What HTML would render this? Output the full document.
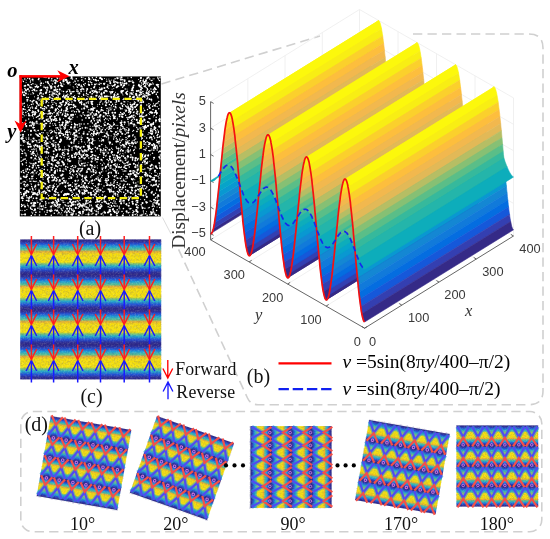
<!DOCTYPE html><html><head><meta charset="utf-8"><title>Figure</title><style>html,body{margin:0;padding:0;background:#fff;overflow:hidden}svg{display:block}</style></head><body><svg width="550" height="539" viewBox="0 0 550 539"><defs><linearGradient id="gc" x1="0" y1="0" x2="0" y2="1"><stop offset="0.0000" stop-color="#2b2585"/><stop offset="0.0150" stop-color="#2c2c96"/><stop offset="0.0325" stop-color="#2050d6"/><stop offset="0.0525" stop-color="#1fa6d4"/><stop offset="0.0725" stop-color="#58c090"/><stop offset="0.0875" stop-color="#eab22c"/><stop offset="0.1050" stop-color="#f6dc0c"/><stop offset="0.1625" stop-color="#f4e20c"/><stop offset="0.1737" stop-color="#84c868"/><stop offset="0.1913" stop-color="#22aecb"/><stop offset="0.2150" stop-color="#2050d6"/><stop offset="0.2350" stop-color="#2c2c96"/><stop offset="0.2500" stop-color="#2b2585"/><stop offset="0.2500" stop-color="#2b2585"/><stop offset="0.2650" stop-color="#2c2c96"/><stop offset="0.2825" stop-color="#2050d6"/><stop offset="0.3025" stop-color="#1fa6d4"/><stop offset="0.3225" stop-color="#58c090"/><stop offset="0.3375" stop-color="#eab22c"/><stop offset="0.3550" stop-color="#f6dc0c"/><stop offset="0.4125" stop-color="#f4e20c"/><stop offset="0.4237" stop-color="#84c868"/><stop offset="0.4413" stop-color="#22aecb"/><stop offset="0.4650" stop-color="#2050d6"/><stop offset="0.4850" stop-color="#2c2c96"/><stop offset="0.5000" stop-color="#2b2585"/><stop offset="0.5000" stop-color="#2b2585"/><stop offset="0.5150" stop-color="#2c2c96"/><stop offset="0.5325" stop-color="#2050d6"/><stop offset="0.5525" stop-color="#1fa6d4"/><stop offset="0.5725" stop-color="#58c090"/><stop offset="0.5875" stop-color="#eab22c"/><stop offset="0.6050" stop-color="#f6dc0c"/><stop offset="0.6625" stop-color="#f4e20c"/><stop offset="0.6737" stop-color="#84c868"/><stop offset="0.6913" stop-color="#22aecb"/><stop offset="0.7150" stop-color="#2050d6"/><stop offset="0.7350" stop-color="#2c2c96"/><stop offset="0.7500" stop-color="#2b2585"/><stop offset="0.7500" stop-color="#2b2585"/><stop offset="0.7650" stop-color="#2c2c96"/><stop offset="0.7825" stop-color="#2050d6"/><stop offset="0.8025" stop-color="#1fa6d4"/><stop offset="0.8225" stop-color="#58c090"/><stop offset="0.8375" stop-color="#eab22c"/><stop offset="0.8550" stop-color="#f6dc0c"/><stop offset="0.9125" stop-color="#f4e20c"/><stop offset="0.9237" stop-color="#84c868"/><stop offset="0.9413" stop-color="#22aecb"/><stop offset="0.9650" stop-color="#2050d6"/><stop offset="0.9850" stop-color="#2c2c96"/><stop offset="1.0000" stop-color="#2b2585"/></linearGradient><filter id="nz" x="0" y="0" width="100%" height="100%"><feTurbulence type="fractalNoise" baseFrequency="0.5" numOctaves="2" seed="3"/><feColorMatrix type="matrix" values="0 0 0 0 0.05  0 0 0 0 0.05  0 0 0 0 0.3  0.55 0 0 0 -0.22"/></filter><filter id="nw" x="0" y="0" width="100%" height="100%"><feTurbulence type="fractalNoise" baseFrequency="0.55" numOctaves="2" seed="11"/><feColorMatrix type="matrix" values="0 0 0 0 1  0 0 0 0 1  0 0 0 0 0.6  0 0.45 0 0 -0.2"/></filter><g id="tb"><rect width="141" height="140" fill="url(#gc)"/><rect width="141" height="140" filter="url(#nz)"/><rect width="141" height="140" filter="url(#nw)"/></g><g id="thumb"><use href="#tb"/><path d="M9 36.5a2.2 2.2 0 1 0 4.4 0a2.2 2.2 0 1 0 -4.4 0M9 71.5a2.2 2.2 0 1 0 4.4 0a2.2 2.2 0 1 0 -4.4 0M9 106.5a2.2 2.2 0 1 0 4.4 0a2.2 2.2 0 1 0 -4.4 0M31.2 36.5a2.2 2.2 0 1 0 4.4 0a2.2 2.2 0 1 0 -4.4 0M31.2 71.5a2.2 2.2 0 1 0 4.4 0a2.2 2.2 0 1 0 -4.4 0M31.2 106.5a2.2 2.2 0 1 0 4.4 0a2.2 2.2 0 1 0 -4.4 0M55.3 36.5a2.2 2.2 0 1 0 4.4 0a2.2 2.2 0 1 0 -4.4 0M55.3 71.5a2.2 2.2 0 1 0 4.4 0a2.2 2.2 0 1 0 -4.4 0M55.3 106.5a2.2 2.2 0 1 0 4.4 0a2.2 2.2 0 1 0 -4.4 0M78.1 36.5a2.2 2.2 0 1 0 4.4 0a2.2 2.2 0 1 0 -4.4 0M78.1 71.5a2.2 2.2 0 1 0 4.4 0a2.2 2.2 0 1 0 -4.4 0M78.1 106.5a2.2 2.2 0 1 0 4.4 0a2.2 2.2 0 1 0 -4.4 0M101.8 36.5a2.2 2.2 0 1 0 4.4 0a2.2 2.2 0 1 0 -4.4 0M101.8 71.5a2.2 2.2 0 1 0 4.4 0a2.2 2.2 0 1 0 -4.4 0M101.8 106.5a2.2 2.2 0 1 0 4.4 0a2.2 2.2 0 1 0 -4.4 0M127.1 36.5a2.2 2.2 0 1 0 4.4 0a2.2 2.2 0 1 0 -4.4 0M127.1 71.5a2.2 2.2 0 1 0 4.4 0a2.2 2.2 0 1 0 -4.4 0M127.1 106.5a2.2 2.2 0 1 0 4.4 0a2.2 2.2 0 1 0 -4.4 0" stroke="#c872e0" stroke-width="1.7" fill="none"/><path d="M1.4 32.9L11.2 14.9L21 32.9M1.4 67.9L11.2 49.9L21 67.9M1.4 102.9L11.2 84.9L21 102.9M1.4 137.9L11.2 119.9L21 137.9M23.6 32.9L33.4 14.9L43.2 32.9M23.6 67.9L33.4 49.9L43.2 67.9M23.6 102.9L33.4 84.9L43.2 102.9M23.6 137.9L33.4 119.9L43.2 137.9M47.7 32.9L57.5 14.9L67.3 32.9M47.7 67.9L57.5 49.9L67.3 67.9M47.7 102.9L57.5 84.9L67.3 102.9M47.7 137.9L57.5 119.9L67.3 137.9M70.5 32.9L80.3 14.9L90.1 32.9M70.5 67.9L80.3 49.9L90.1 67.9M70.5 102.9L80.3 84.9L90.1 102.9M70.5 137.9L80.3 119.9L90.1 137.9M94.2 32.9L104 14.9L113.8 32.9M94.2 67.9L104 49.9L113.8 67.9M94.2 102.9L104 84.9L113.8 102.9M94.2 137.9L104 119.9L113.8 137.9M119.5 32.9L129.3 14.9L139.1 32.9M119.5 67.9L129.3 49.9L139.1 67.9M119.5 102.9L129.3 84.9L139.1 102.9M119.5 137.9L129.3 119.9L139.1 137.9" stroke="#2f9ad0" stroke-opacity="0.55" stroke-width="7.9799999999999995" fill="none"/><path d="M1.4 32.9L11.2 14.9L21 32.9M1.4 67.9L11.2 49.9L21 67.9M1.4 102.9L11.2 84.9L21 102.9M1.4 137.9L11.2 119.9L21 137.9M23.6 32.9L33.4 14.9L43.2 32.9M23.6 67.9L33.4 49.9L43.2 67.9M23.6 102.9L33.4 84.9L43.2 102.9M23.6 137.9L33.4 119.9L43.2 137.9M47.7 32.9L57.5 14.9L67.3 32.9M47.7 67.9L57.5 49.9L67.3 67.9M47.7 102.9L57.5 84.9L67.3 102.9M47.7 137.9L57.5 119.9L67.3 137.9M70.5 32.9L80.3 14.9L90.1 32.9M70.5 67.9L80.3 49.9L90.1 67.9M70.5 102.9L80.3 84.9L90.1 102.9M70.5 137.9L80.3 119.9L90.1 137.9M94.2 32.9L104 14.9L113.8 32.9M94.2 67.9L104 49.9L113.8 67.9M94.2 102.9L104 84.9L113.8 102.9M94.2 137.9L104 119.9L113.8 137.9M119.5 32.9L129.3 14.9L139.1 32.9M119.5 67.9L129.3 49.9L139.1 67.9M119.5 102.9L129.3 84.9L139.1 102.9M119.5 137.9L129.3 119.9L139.1 137.9" stroke="#4f4cf2" stroke-width="3.8" fill="none"/><path d="M1.4 -1.3L11.2 13.7L21 -1.3M1.4 33.7L11.2 48.7L21 33.7M1.4 68.7L11.2 83.7L21 68.7M1.4 103.7L11.2 118.7L21 103.7M23.6 -1.3L33.4 13.7L43.2 -1.3M23.6 33.7L33.4 48.7L43.2 33.7M23.6 68.7L33.4 83.7L43.2 68.7M23.6 103.7L33.4 118.7L43.2 103.7M47.7 -1.3L57.5 13.7L67.3 -1.3M47.7 33.7L57.5 48.7L67.3 33.7M47.7 68.7L57.5 83.7L67.3 68.7M47.7 103.7L57.5 118.7L67.3 103.7M70.5 -1.3L80.3 13.7L90.1 -1.3M70.5 33.7L80.3 48.7L90.1 33.7M70.5 68.7L80.3 83.7L90.1 68.7M70.5 103.7L80.3 118.7L90.1 103.7M94.2 -1.3L104 13.7L113.8 -1.3M94.2 33.7L104 48.7L113.8 33.7M94.2 68.7L104 83.7L113.8 68.7M94.2 103.7L104 118.7L113.8 103.7M119.5 -1.3L129.3 13.7L139.1 -1.3M119.5 33.7L129.3 48.7L139.1 33.7M119.5 68.7L129.3 83.7L139.1 68.7M119.5 103.7L129.3 118.7L139.1 103.7" stroke="#f2504a" stroke-width="3.8" fill="none"/></g></defs><rect width="550" height="539" fill="#fff"/><g fill="none" stroke="#d0d0d0" stroke-width="1.6" stroke-dasharray="9.3 5.2"><path d="M161.5 84 L320 36"/><path d="M413 34 H529 Q543 34 543 48 V391 Q543 404.7 529 404.7 H258 Q250.5 404.7 247.5 398 L177 246"/><rect x="20.8" y="411.5" width="521" height="120.2" rx="12" ry="12"/></g><path d="M162.5 217.5L171 234" fill="none" stroke="#d8d8d8" stroke-width="0.9"/><rect x="19.8" y="76.4" width="141" height="140" fill="#000"/><path d="M28.5 147.4h0M81 86.7h0M79.7 191.8h0M26.9 196.2h0M40.6 93.3h0M29.2 85.3h0M115.5 136.3h0M102.3 139.9h0M131.5 174h0M41.6 144.9h0M23.6 141.1h0M41.5 101.5h0M75.3 132.4h0M109.1 85.6h0M49.6 99.5h0M27.8 77h0M34.6 127.5h0M142.6 162.2h0M85.5 144.2h0M34.7 124.6h0M136.3 99.4h0M153.3 150.3h0M56.9 127.9h0M134.8 179.7h0M92.8 126.4h0M24.3 115.8h0M71.4 107.6h0M111.7 188h0M125.3 143.4h0M152.8 177.6h0M97.1 95.2h0M135.9 106.3h0M56.7 135.2h0M98.1 185.9h0M98.7 111.5h0M142.9 207.8h0M30.5 110.4h0M67.8 104.2h0M82 79.5h0M107.6 148.1h0M35 113.9h0M129.3 114.5h0M100.2 174.2h0M53.7 92.2h0M27.4 105h0M63 182.4h0M90.3 101.7h0M22.9 111.8h0M122.9 153.5h0M86.8 206.7h0M116.5 213.4h0M77 125.2h0M56.1 99.7h0M59.8 110.6h0M63.7 126.5h0M48.5 147.1h0M26.2 80.1h0M143.3 131.1h0M115.9 173.2h0M55.7 87.3h0M106.7 166.2h0M63 155.8h0M117.2 170.8h0M37 201h0M157.1 207h0M83.2 114.3h0M144.4 174.6h0M145.9 144.5h0M62.6 96.5h0M64.6 193.6h0M125.4 193.5h0M80.2 115.2h0M34.6 192.9h0M151.2 111.6h0M97.2 176.9h0M110.5 116.7h0M43.8 99.4h0M147.1 146h0M39.9 103.7h0M68.2 89.6h0M93.7 129.3h0M141 107h0M55.1 92.1h0M84.3 153.5h0M110.6 119.2h0M101.9 130.9h0M104.4 78.5h0M144 143h0M114.7 135.3h0M113.7 205.4h0M123.7 147.1h0M113.4 208.7h0M40.2 84.2h0M73.3 128.9h0M44.1 77.4h0M69.5 209.6h0M133.9 183.4h0M64.6 115.3h0M152.3 80.4h0M89.4 205.8h0M128.4 161.3h0M55 86h0M143.9 214.1h0M119.6 139h0M37.3 193.7h0M48.2 111.3h0M111.7 214.5h0M148.2 82.6h0M141.5 139.3h0M129.1 208.3h0M103.7 163h0M71.9 96.6h0M48.8 78.6h0M115.2 102.7h0M97.3 165.7h0M143.8 141h0M72.2 147h0M155.6 104.4h0M42.8 186.1h0M92.8 130.2h0M25.7 193.3h0M129.4 140.6h0M86.6 91.9h0M73.2 209h0M42.6 201.4h0M149 105.9h0M91.1 121.3h0M115.4 201.3h0M75.5 187.7h0M127.3 138.4h0M102.3 169.1h0M20.7 81.7h0M145.6 95.3h0M111.7 80.1h0M39.2 207h0M55.1 202.4h0M94.7 133.4h0M28.6 185.1h0M97.4 207.6h0M110.1 189.9h0M63.7 118.7h0M52 91.6h0M130.6 149.6h0M110.2 211h0M143.4 79.1h0M121.7 156.2h0M50 163.4h0M147.7 97.1h0M35.3 205.9h0M40.2 81h0M148.2 208.1h0M49.2 92.5h0M135.7 164.7h0M23.3 112.6h0M120.5 128.1h0M81.4 184.3h0M118.9 151.7h0M44.2 77.2h0M127 212.7h0M46.2 145.6h0M32.4 200.3h0M69.1 122.3h0M144.1 110h0M42 98.7h0M66.1 149.5h0M47.8 165.6h0M49.3 130.9h0M64.2 164.2h0M114.8 206.1h0M88.9 212.3h0M151.9 149.1h0M70.1 84.9h0M151.8 150.2h0M132.4 131.4h0M55.8 136.1h0M20.8 177.2h0M108.9 79.1h0M153.5 168h0M34.6 96.8h0M128.9 125.1h0M146.8 186.9h0M143.8 154h0M28.6 141.8h0M115.8 206.3h0M66.7 121h0M96.6 83.9h0M84.4 182.9h0M50.1 98.1h0M21.1 171.9h0M54.3 178.8h0M140 178.3h0M120.7 78.6h0M111.4 190.4h0M63.9 178.2h0M140.8 144.5h0M118.7 191.8h0M60 77.2h0M116.1 203.8h0M85.5 105.7h0M102.8 103.3h0M68.6 149.1h0M88.4 155.7h0M55.9 82.3h0M45.7 88.6h0M152.8 203.3h0M104 132.2h0M75.4 139.2h0M155.4 214.7h0M110.8 213.8h0M126.4 91.6h0M44 110.1h0M108.2 139.8h0M40.4 107.8h0M120.2 153.8h0M64.9 202.4h0M60.4 112.8h0M149.7 90.5h0M61.4 212.8h0M133.2 124.3h0M50.9 156.3h0M47.9 88h0M105.5 145.8h0M133.9 157.9h0M87 198h0M134.6 197.1h0M51.7 102.3h0M55.4 190.4h0M33.9 174h0M93.5 174.5h0M142 176.5h0M129 124h0M154.3 206.7h0M91 79.9h0M57.6 171.2h0M153.3 116.9h0M154.1 148.3h0M85.6 151.1h0M37.7 95.2h0M77.2 117h0M63.8 110.6h0M60.2 214.1h0M128.3 99h0M142.2 138.1h0M123.7 98.4h0M84.4 177.4h0M90.2 138.6h0M147.7 78.5h0M135.9 148.1h0M91 103.1h0M159.3 165.3h0M77.9 186.3h0M117 77.5h0M35.3 90.9h0M133.2 85.6h0M69.9 100.5h0M88.1 187h0M44.7 126.7h0M76.8 86.1h0M135.9 125.8h0M47.1 116.4h0M25.3 169.2h0M42.2 175h0M58.1 192.9h0M73.1 210h0M153.3 147.1h0M50.1 198.1h0M92.1 152.3h0M65.3 169h0M61.9 86.1h0M38.9 115.4h0M108.3 102.2h0M26.1 82.6h0M116.1 125.4h0M137 184.8h0M27 110.9h0M38.2 182.8h0M118.6 188.8h0M96.4 111.7h0M70.4 134.1h0M114.1 110h0M40.2 155.2h0M49.3 85.4h0M71.1 100.3h0M55.5 111.1h0M138.6 205.6h0M72 192.4h0M31.6 172.5h0M82.4 211.6h0M26 138h0M99.2 125.3h0M52.1 156.5h0M92.1 158.7h0M99.1 184.6h0M128.9 85h0M26.5 160.8h0M97.1 188.5h0M149.8 170.7h0M101.7 92.8h0M35.8 188.1h0M153 78.9h0M132.3 81.9h0M31 122.7h0M145.4 158.8h0M21.2 157.4h0M154.2 214.7h0M97.4 133.3h0M87.7 128h0M53.2 125.5h0M82.7 155.9h0M44 86.2h0M102 88.1h0M59 112.7h0M50.9 132.5h0M142.8 124.4h0M109.9 205.1h0M77.1 171.2h0M28.4 134.5h0M121.6 122.7h0M112.3 160.5h0M127.1 184.7h0M33 80.9h0M149.2 99.5h0M90.2 165.3h0M132.3 140.9h0M108.1 108.1h0M57.1 137.2h0M62.1 215h0M135.4 116.2h0M88.3 200.7h0M101.4 199.5h0M159.5 118.3h0M36 212.2h0M52.8 136.8h0M23.2 214.5h0M39.4 136.5h0M89.8 204.5h0M122.6 114.9h0M57.4 86.6h0M120.7 132.4h0M74.3 133.9h0M73.1 110.4h0M64.5 211.9h0M103.2 215.1h0M106.1 171h0M108.3 152.4h0M87 107.7h0M94.1 189.9h0M136.7 190.5h0M41.9 111.9h0M67.9 129.9h0M48.5 156.2h0M45.3 176.7h0M106.8 128.6h0M101.3 205.4h0M113.5 122.7h0M127.9 183.9h0M119.8 144h0M21.2 214.2h0M57.1 120.5h0M79.1 84.1h0M56.3 105h0M98.1 84.1h0M82.6 198.9h0M81 165.7h0M114.8 117.9h0M49.3 91h0M116.3 98.5h0M65 154.8h0M80.5 171.2h0M89.8 206.1h0M96 89.3h0M52.2 205.3h0M104.1 211.3h0M152.4 168.1h0M67 139.4h0M103.7 141h0M72.8 169h0M44.1 207.7h0M36.8 141.9h0M48 133h0M90.6 200.6h0M100.1 172.6h0M125.3 98.3h0M61.2 200.6h0M130 175.7h0M85 204.8h0M115.3 98h0M40 104.5h0M138.6 186.2h0M120.7 125.5h0M138.5 163h0M37.3 171.8h0M135.4 102.6h0M154.3 127.3h0M91.2 214.2h0M83.9 189.3h0M71.2 212.5h0M122.3 181.1h0M124.9 166h0M135.9 187.2h0M43.1 179.5h0M64 84.4h0M74.3 210.7h0M148.7 150.5h0M69.8 207.5h0M133.3 92.4h0M151.9 180.1h0M75.3 188.8h0M39.1 124h0M130.6 193.4h0M106 115.2h0M104.7 191.4h0M50.2 108.1h0M70.7 174.1h0M137.6 122.1h0M108.4 96.3h0M50.9 187.1h0M24.7 185h0M91 135.8h0M132.8 210.4h0M119.4 140.1h0M46.9 132.9h0M121 85.7h0M63.1 83.1h0M84 91.2h0M87 191.1h0M49.7 112h0M39.1 78.8h0M102.2 129.6h0M114.5 176.1h0M132.6 82.3h0M54 206.2h0M148.9 113.5h0M22.9 182.1h0M156.4 175.5h0M61.1 132.1h0M133.9 140.6h0M139.2 194.7h0M127.9 78h0M137.4 176.5h0M82.2 175.1h0M62.4 125.4h0M95.5 211h0M116.8 211.3h0M125.7 111.5h0M24.3 172.9h0M117.5 119.2h0M155.9 172.4h0M128 101.7h0M82.6 178.1h0M24.7 192h0M59.2 78.4h0M102.5 168.8h0M51.6 86h0M71.2 177.3h0M93.5 92.5h0M127.3 108.1h0M93.8 110.3h0M141.3 106.5h0M87.7 102h0M111.7 148.4h0M71.8 202.3h0M31.9 107.1h0M81.8 96.5h0M76.6 171.3h0M159.1 163.2h0M65.4 133.5h0M43.1 191.9h0M99 175.8h0M101.7 200h0M27.6 204h0M22.8 117.2h0M111.7 148.2h0M93.6 171h0M114.4 188h0M154.8 201.9h0M127.6 94.7h0M50.4 113.9h0M22.9 170.8h0M118.9 211.1h0M127.5 118.8h0M142.7 158.7h0M58.5 86.7h0M44.6 173.6h0M158.4 79.7h0M151.1 211.6h0M67.3 149.5h0M78.8 143.5h0M28.1 88.6h0M68.2 145.3h0M150.3 154.8h0M131 109.1h0M113.2 155.4h0M47.3 157.9h0M109 110.4h0M24.7 177.5h0M106.3 202.2h0M63.9 169h0M131.5 120h0M85 104.4h0M109.4 115.7h0M157.6 203.3h0M85.5 163h0M33.5 210.7h0M60.7 183.6h0M35.3 86.8h0M94.8 192.6h0M67.7 94.1h0M156.3 93.2h0M123 95h0M67.8 111.4h0M86 214.5h0M139.9 121.6h0M124.5 124.4h0M69.7 129.5h0M73.6 193.6h0M129.8 197.7h0M68 111.6h0M52.1 86.8h0M143.5 169.4h0M120.7 136.6h0M119.6 206.1h0M149.6 105.8h0M92.1 142h0M125 109.9h0M82.3 89h0M131.8 171.1h0M67.4 183.4h0M106.8 119.1h0M50.9 88.8h0M64.5 147h0M48.1 159.2h0M123.2 208.8h0M102.9 171h0M132.3 80.7h0M95.7 115.3h0M23.4 103.8h0M133 97.4h0M97.4 205h0M149.7 137.2h0M103.9 212.6h0M28.2 94.2h0M119.4 164.5h0M159.5 175h0M143.6 160.4h0M148.3 154.8h0M64.6 129.3h0M64.9 182.1h0M34.8 115.4h0M50.4 167.8h0M40.7 171.3h0M55.2 190.1h0M68.4 206.5h0M39.5 190.1h0M46.4 146.4h0M115.7 180.4h0M97.9 133.2h0M126.9 158.8h0M64.3 81h0M70.8 160.9h0M49.2 147.4h0M120.1 77.2h0M80 211.5h0M22.2 105.1h0M70.6 201.9h0M40.2 99h0M102.7 188.2h0M78.1 152.4h0M28.5 135.7h0M104.8 102.1h0M31.9 123h0M111.1 135.8h0M92 207h0M42 119.4h0M43.6 83.3h0M138.9 166.9h0M120.6 147.9h0M33.2 202.3h0M51.5 132.3h0M80.6 98.6h0M134.3 142.7h0M36.2 121.7h0M101.9 177.4h0M141.3 165.4h0M142.3 176.5h0M73.6 170.2h0M91.8 158.6h0M78.9 169.2h0M125.9 178.8h0M52.5 123.8h0M64.3 212.2h0M144.9 136.3h0M128.4 129h0M103.6 112.4h0M74.9 129.6h0M72.4 182.7h0M115.4 163.7h0M100.7 121.7h0M91.7 94h0M54 195.9h0M102.5 129.4h0M131.7 189.5h0M28 129.8h0M82 214.8h0M85 106.5h0M80.9 147.5h0M72.4 196.5h0M143.1 126.7h0M106.4 155.2h0M70.8 132.8h0M122.9 81h0M89.9 142.6h0M56.6 166.5h0M64.3 153.4h0M88 162.6h0M67.8 80.6h0M37.3 99.2h0M133.7 178.6h0M106 196.6h0M142.9 126.5h0M77.2 149.8h0M69.8 189.8h0M73.1 157.3h0M104.5 163.9h0M91.6 97.7h0M141.5 130.9h0M46 157.2h0M90.8 193.2h0M150.4 104.7h0M50.8 185.4h0M27.5 111.5h0M36.3 108h0M129.5 215.2h0M150.6 131.5h0M136.5 143.1h0M143.5 212.8h0M86.1 95.2h0M120 178.1h0M23.5 138.3h0M103.9 123.7h0M36.6 178.5h0M90.5 134.6h0M74 137.4h0M59.4 92.2h0M83.2 198.3h0M82 182.9h0M151.6 201.6h0M98.8 134.8h0M82.5 204.1h0M102.3 175.6h0M149.6 92.2h0M38.1 142.7h0M41.5 107.9h0M27 180h0M141.1 90.9h0M59.2 146h0M78 200.9h0M31.5 196.8h0M56.6 162.5h0M85.1 176h0M111.2 172.4h0M100 148.5h0M50 123.7h0M42 176.5h0M20.5 210.3h0M55.8 80.4h0M37.8 194.7h0M97.3 189.8h0M85 182.4h0M44.6 211.9h0M31 139.8h0M102.4 110h0M159.7 105.1h0M22.1 90h0M57 163.2h0M132.3 160h0M135.9 201.2h0M101.1 129.6h0M126.8 162.6h0M119 208.4h0M65.2 198.6h0M68.8 188.5h0M29.4 122.7h0M133.7 108.8h0M141.7 191.7h0M136.8 213.7h0M137 204.8h0M99.6 115.3h0M127.5 119.5h0M134.4 99.2h0M69.2 199.1h0M30.7 181.5h0M113.8 88.6h0M83.3 81.3h0M38.2 130.4h0M59.9 179.6h0M99.6 196.7h0M149.5 168.6h0M72.7 192h0M32.8 212.7h0M71.5 91.9h0M49.3 84.5h0M95.5 151h0M111.9 108.1h0M53 102.8h0M94.8 165.7h0M129.8 176.8h0M52.9 174.8h0M73.3 213.9h0M74.7 183.9h0M126 144.9h0M122.8 169.8h0M48 120.1h0M36.7 181.3h0M154.1 78.8h0M58.5 106.4h0M71.7 93.6h0M26.2 115.1h0M41.2 150.3h0M140.8 94.6h0M125.2 160.4h0M77.8 181.2h0M86.3 189.8h0M122.1 161.1h0M134.3 115.2h0M149.5 114.5h0M113.3 157.9h0M78.2 208.4h0M89.3 145.2h0M92 188.3h0M142.9 135.3h0M92.1 214.3h0M22.7 122.6h0M37.7 135h0M62.6 178.2h0M132.9 212.7h0M156.3 89.5h0M103.1 127.9h0M60.4 141.6h0M122.5 93.9h0M68.3 156.5h0M81.9 189.9h0M109.6 124.5h0M37.8 154.8h0M58.9 185.6h0M43.5 103.7h0M79.9 204.9h0M73.7 114.7h0M84.8 150.1h0M81 86.6h0M66.1 111.5h0M111.8 92.8h0M56.2 194.7h0M61.9 91h0M115.7 116.2h0M32.5 213.7h0M106 125.6h0M81.4 206.2h0M35.9 101.2h0M26.3 192.3h0M129.7 94.9h0M139.4 172.6h0M42.1 168.5h0M36.8 112.4h0M117.3 128.6h0M133.9 124.2h0M132.4 119.4h0M47.7 210.8h0M33 204.7h0M27.6 78.5h0M129.8 171.4h0M94.4 210.3h0M139.2 97.7h0M159.4 167h0M98.5 138.7h0M30.9 94.2h0M137.1 210.1h0M51.4 80.2h0M28.3 150.3h0M88.7 101.4h0M123.5 213.7h0M21.3 126h0M67.7 203.1h0M102.8 191.6h0M33.7 204.7h0M117.8 125.4h0M149.9 150.9h0M98.5 194.8h0M103.1 136.5h0M33.3 176h0M143.6 101.2h0M23 136.9h0M102.6 213.1h0M30.9 173.4h0M65.7 187.5h0M114 128.4h0M98.2 122.6h0M108.5 179.5h0M141.5 105.2h0M158 86.1h0M150.4 169.9h0M21 111.6h0M143.7 146.5h0M123.3 174.2h0M108.6 120.4h0M149.1 150.8h0M68 125.4h0M21 134.9h0M131.1 93.8h0M37.2 122.1h0M31.9 181.2h0M28.8 137.4h0M93.1 183.5h0M99.7 87.7h0M63.9 94.1h0M75.6 114.3h0M131.2 94.6h0M51.5 168.3h0M23.2 145.6h0M56.6 130h0M20.7 113.1h0M123.6 145.4h0M73.2 86.6h0M31 183.8h0M34.4 187.6h0M44.1 110.6h0M112.1 89.2h0M103.1 150.5h0M31.6 184.3h0M102.8 150.5h0M74.7 95.5h0M98.6 211.7h0M89.4 187.5h0M95.1 157.8h0M58.9 201.1h0M120 187.1h0M100.6 196.8h0M87.5 142h0M153.7 159.5h0M142.3 99.9h0M84.7 142.2h0M120.8 151.6h0M130.2 102.8h0M52.2 83.6h0M70 176.5h0M92.5 151.9h0M101.5 138.9h0M136.5 173h0M35.2 84.3h0M104.1 93.4h0M140.3 78.4h0M156.4 113.4h0M128.2 148.8h0M51.5 167.6h0M45.7 157.8h0M86.6 176h0M90.2 126.3h0M115.6 158.2h0M50.8 112.6h0M151.4 144.7h0M127 89.1h0M137.2 160.5h0M118.9 78h0M45.8 123.1h0M151.3 145.3h0M120.3 108.7h0M88.1 168.3h0M58.4 211.9h0M128.3 119.4h0M46 173.5h0M74.1 153.6h0M147.3 167.7h0M126.2 193.6h0M77.8 127.2h0M96.6 199.1h0M89.9 112.9h0M146.5 211.7h0M127 127.5h0M145.5 122.3h0M47.7 165.2h0M98.9 179.5h0M108.3 169.8h0M28.7 85.6h0M87.3 96.6h0M28.7 206.8h0M76.7 149.3h0M153.6 103.4h0M64.8 151h0M32.4 92.6h0M68.1 203h0M54.8 102.4h0M115.8 157.3h0M72.6 165.7h0M72.4 148.2h0M81.4 136h0M97 115.1h0M61.5 157.1h0M98 122.2h0M48.8 102.7h0M79.2 147.1h0M143.8 157.4h0M97.6 104.8h0M22.8 80h0M112.7 149.5h0M50.7 133.4h0M119.9 208.9h0M34 193.9h0M143.7 108.2h0M78 172.8h0M96.3 126.1h0M122 139.3h0M22.1 210.6h0M96.7 210.1h0M29.3 105.5h0M139.4 148.8h0M58.4 147.9h0M53 159.9h0M93.1 166.9h0M43.9 193.4h0M71.7 209.1h0M153.9 104.9h0M32.2 142.4h0M44.2 121.6h0M47.8 162.2h0M87.1 181h0M56.7 105.6h0M140.7 199.4h0M49.2 141.9h0M56 191.4h0M115.6 92.3h0M47.2 175.6h0M67.9 94.7h0M123.8 155.2h0M54.1 142.9h0M26.7 139.4h0M63.7 135.5h0M91.2 194.9h0M144.9 116.2h0M159.2 119.2h0M55.3 146.7h0M42 94.1h0M33.1 94h0M132.2 199h0M62.3 190.8h0M26.9 209.5h0M148.4 181.7h0M33.6 166.7h0M113.5 170.3h0M126 151h0M92.6 106.7h0M130 171.4h0M132.8 121.4h0M148.5 183.4h0M72 78h0M54.9 172.2h0M143.2 117.8h0M111.7 153.1h0M40.6 159.1h0M125.1 101.9h0M25.9 153.5h0M96.5 187.8h0M91.3 183h0M25.8 141.7h0M67.3 131.7h0M84.2 194.4h0M105.6 167.7h0M100 181.5h0M121.9 169.5h0M151.6 124.5h0M20.4 135.1h0M38.9 189.3h0M72.5 215.7h0M154.7 184.9h0M119.2 160.9h0M73.7 175.8h0M106.7 79.2h0M23.3 198.6h0M111 184.8h0M78.9 141.9h0M30.8 115.8h0M119.8 139.2h0M26.4 165.4h0M117.6 153.2h0M84.6 85.7h0M157.5 129.8h0M67.3 215h0M36.8 108.2h0M43.9 198.7h0M67.4 206h0M156.6 188.9h0M87.9 107.3h0M38.6 116.6h0M154.8 212.8h0M132.7 123.9h0M62.1 175.7h0M94.1 117.9h0M75.8 196.1h0M93.6 185.6h0M137.6 114.5h0M75.3 167.5h0M102.5 140.7h0M44.7 144.3h0M125.3 163.4h0M52.5 167.2h0M90 128.7h0M117.2 164h0M58.2 206.3h0M152.9 213.4h0M30.4 80.6h0M144.1 96.5h0M29.8 162.8h0M123.4 187.3h0M107.2 127.8h0M94.7 130.8h0M94.1 126.3h0M123.3 179.1h0M81 160.9h0M96.6 205.9h0M143 177.1h0M159.7 115.9h0M73.8 146.3h0M82.9 165.9h0M46.2 152.2h0M145.6 159.8h0M63.8 111.9h0M151.8 100.9h0M114 97.9h0M101.4 177.5h0M27.1 169.8h0M149.8 172.9h0M77.7 84.7h0M76 193.1h0M46.7 143.3h0M101.2 184.3h0M115.2 107.7h0M47.7 194.3h0M124.4 113.5h0M157.7 198.1h0M107.5 203.9h0M51.1 80.9h0M55.8 89.7h0M41.5 132.6h0M142.9 121.9h0M56.1 81.4h0M40.1 206h0M156.4 114.5h0M47.5 90.2h0M63.2 207.1h0M125.2 152.7h0M51.2 167.3h0M149.8 161.3h0M146.5 83.3h0M151.6 173.6h0M43.7 140.3h0M50.2 206.9h0M108.7 166.3h0M106.8 110.8h0M92.2 136.7h0M61.2 139.7h0M47.9 121.1h0M99.7 83h0M33.8 160h0M57.6 202.3h0M78.6 201.8h0M93.2 97.1h0M96.7 171.8h0M66.5 79.9h0M104.3 84.6h0M124.9 147h0M69.2 156.1h0M46 198.4h0M143.9 121.3h0M125.8 131.1h0M35.7 165.8h0M117.3 118.3h0M148 134.4h0M88.8 138.6h0M41.3 157.5h0M73.8 141.6h0M31.7 212.1h0M88.9 202.4h0M100.7 163.6h0M129 143.6h0M75 165.7h0M111 172.2h0M78.7 195.8h0M117.2 215.6h0M71.7 171.4h0M109.9 167h0M127.1 150.2h0M81.2 146.5h0M85.5 188.5h0M77.8 93h0M24.6 91.3h0M145.6 83.6h0M86.6 156.6h0M33.5 118.1h0M60.9 106.6h0M134.2 187.5h0M137 167.7h0M77 183.4h0M125 198.1h0M41.6 201.3h0M144.5 97.1h0M116.3 95.6h0M74.6 186.1h0M156 106.5h0M149.7 99.1h0M56.9 132.7h0M75.5 181.3h0M82.4 198.8h0M83.1 213.1h0M95.8 167h0M117.9 131.1h0M71.2 122.2h0M118.9 86.2h0M99.8 154.5h0M99.5 206h0M124 101.7h0M149.3 169.8h0M68.6 103.5h0M88.9 97h0M77.4 175.6h0M87.3 106.6h0M141.2 127.9h0M52.7 84.3h0M81.5 139.9h0M99.1 128.1h0M41.7 198.2h0M81.5 90h0M136.9 204.8h0M79.5 192.7h0M97.3 106.4h0M142.3 135.3h0M100.2 118h0M119.6 154.6h0M69.6 158.3h0M85.4 157.6h0M105 152.2h0M37 134.5h0M128.4 109.4h0M56.1 118.7h0M36.8 159.7h0M97.4 168h0M33.1 202.7h0M81 139.2h0M58.8 198.4h0M62.6 77.2h0M115.3 116.7h0M46 113.5h0M100.2 120.7h0M143 128.1h0M21.7 153.6h0M106.9 151.9h0M96.5 214.5h0M120.5 125.8h0M34.4 153.8h0M69.5 102.7h0M32.9 116.5h0M78.5 156.5h0M37.3 153.2h0M124.8 128.4h0M25.1 213.9h0M55.5 206.2h0M129.8 212.3h0M32.2 106.9h0M102.5 132.5h0M80 137h0M87.6 156.6h0M112.5 175.6h0M105 83.2h0M82.7 113h0M74.9 80.3h0M144.8 174.9h0M142.5 169.3h0M43.3 112.5h0M38.3 110.6h0M70.3 168.5h0M150.7 185.1h0M94.2 125h0M133.4 211.1h0M32.9 178.6h0M99.7 116.6h0M124.9 130.3h0M147.1 163.7h0M111.2 98.2h0M50.4 142.3h0M74.2 106.3h0M116.9 120.3h0M44.6 160.5h0M73.9 87.9h0M107.3 189h0M95.8 170.4h0M81.5 155.1h0M86.2 117.9h0M157.6 106.7h0M76.2 124.6h0M131.1 196.8h0M99.3 140.8h0M147.6 202.4h0M35.7 189.4h0M74.3 141.4h0M52.1 119h0M68.4 203h0M130.5 108h0M128.2 150.4h0M63.3 208h0M109 96.5h0M139.7 102.8h0M32.4 88h0M101.3 168.1h0M35.7 163.6h0M46.8 138.7h0M65.5 160h0M120.9 145.9h0M83 77.6h0M102.3 160.8h0M123.1 171.4h0M77.6 147.7h0M99.3 198.1h0M75.5 204.8h0M41.2 177.2h0M140.9 80.4h0M148.2 190.7h0M132.4 157.5h0M116.6 134.6h0M139.4 176.6h0M158.1 214.8h0M110.1 96.2h0M58.6 212.8h0M104.2 199.5h0M85.1 189.8h0M155.4 170.6h0M79.5 215.2h0M68.2 97.7h0M58.9 162.9h0M141.6 136.7h0M34.5 149.8h0M137.9 158.9h0M108.7 88.5h0M21.7 150.6h0M83.2 157.9h0M134.8 172.2h0M122.9 122.2h0M133.2 96.7h0M128.6 123h0M109 162.7h0M124.7 165.1h0M138 181.9h0M47.4 134.7h0M73.3 82.3h0M82.3 194.7h0M152.7 82.8h0M53.9 193.9h0M127.4 104.2h0M58.8 181.9h0M66.4 169.9h0M113.2 125.5h0M111.2 85.3h0M57.8 213.9h0M149.4 150.7h0M133.6 183h0M153.8 166h0M157.6 173.9h0M22.3 103.9h0M67.4 164h0M121.5 192h0M53.1 145.9h0M69.6 160.4h0M76.4 83.7h0M43 109.8h0M35.9 131.4h0M99.1 192h0M145.4 192.8h0M102.8 104.4h0M51.2 105.3h0M141.1 87.2h0M140.3 129h0M118.4 150.7h0M147 82.3h0M90.6 113.6h0M79 189.6h0M69.8 95.2h0M48.7 143.3h0M56.4 184.2h0M107.8 119h0M108.6 100.7h0M138.7 79.5h0M141.6 206.1h0M55.2 94h0M54.6 183.8h0M94.9 140.6h0M58.4 109.5h0M78.2 208.5h0M43.7 100.9h0" stroke="#fff" stroke-width="1.0" stroke-linecap="round" fill="none"/><path d="M65.7 97.9h0M30.5 151.4h0M134.5 102.1h0M109.7 128.7h0M36.9 135h0M113.8 183.1h0M142.8 120.5h0M103.5 157.5h0M137.8 208.1h0M113.2 85.4h0M60.2 130.5h0M36.8 85.2h0M38.5 111.4h0M142.2 88.2h0M141.2 115.6h0M53 144.3h0M57.1 77.6h0M116.9 148.6h0M129.4 198.4h0M55.7 125.2h0M96.3 80.8h0M157.2 196.8h0M128.3 150.9h0M117.2 209.8h0M47.9 105.4h0M146.3 193.7h0M112.7 203.3h0M156.2 131.9h0M157.4 168.2h0M156.1 167.2h0M61.4 110.4h0M147.6 126.1h0M102 202.5h0M148.7 146.6h0M93.6 79.6h0M46 77.5h0M44.5 142.7h0M98.2 122.2h0M128.4 147.5h0M126.6 203.7h0M106 147.2h0M117.2 139.8h0M87.2 207.7h0M39.6 93.9h0M42 176.4h0M51.1 209.2h0M43 136.9h0M121.4 79.7h0M28.4 172.5h0M30.5 207.2h0M29.7 196.8h0M57.8 94.9h0M134.9 137h0M137.1 131.6h0M136.8 175.1h0M38.5 86.8h0M138 197.8h0M84.6 98.9h0M73.8 142.9h0M57.3 89.5h0M52.9 158.3h0M125.3 168.3h0M158.1 97.7h0M145.1 164.1h0M133.9 96.3h0M24.8 95.5h0M35.1 193h0M108.2 163.9h0M88.8 77.5h0M125 146.8h0M112.6 86.2h0M122.4 105.5h0M156.8 145.6h0M87.4 171.9h0M41 112.2h0M28.9 114.3h0M92.6 141.5h0M152.6 106.2h0M38.9 190.8h0M20.9 145.2h0M60.9 128.7h0M160 158.8h0M91.8 103.4h0M122.8 139.6h0M150 94.7h0M68.4 118.3h0M156.9 113.1h0M62.5 154.4h0M147.1 215.3h0M125.2 134.3h0M38 146.9h0M55.1 132.5h0M23.4 81.5h0M145.6 142.7h0M121.3 166.9h0M55.6 165.3h0M36.1 86.8h0M84.8 210.1h0M54.9 210.3h0M63.4 80h0M25.2 123.9h0M115.8 104.5h0M52.7 107.7h0M61.6 209.1h0M46.6 108h0M124.7 81.4h0M155.2 105.8h0M135.3 191.1h0M27.3 142.7h0M148.9 103.8h0M145.8 81.2h0M106.7 113.4h0M126 204.2h0M74.4 111.8h0M65.1 127.2h0M31.4 104.4h0M32.2 90.4h0M78.7 163.1h0M125 194.6h0M99.7 128.8h0M41.8 199.7h0M101.9 206.1h0M56 160.2h0M48.8 187.4h0M29.2 91.1h0M43.3 173.5h0M64.1 155.6h0M71.3 104.4h0M79.6 190.9h0M22.5 153.6h0M147.6 89.4h0M152.2 212.4h0M27.9 205.6h0M46 107.3h0M26.1 155.1h0M104.2 153.3h0M63.2 135.3h0M79.9 168.4h0M81.7 80.2h0M88.8 109.7h0M80.6 89.7h0M91.7 82.7h0M31.9 178.8h0M91.9 84.5h0M140.2 215.3h0M29.6 125.7h0M134.4 96.9h0M130.1 93h0M35 214.8h0M158.9 157.1h0M106.5 137h0M70 91.8h0M51.8 158h0M48.9 163.6h0M41.3 90.3h0M142.2 185.6h0M57.3 78.6h0M99 125.6h0M82.4 207.1h0M48.3 161.4h0M144.7 185.7h0M21.3 194.2h0M85.4 180h0M25.8 123.6h0M117.6 194.3h0M57.6 153.9h0M108.6 173.2h0M117.9 196h0M117.2 165h0M123.4 86.1h0M138.9 189.7h0M34.4 90.6h0M49.1 121.3h0M106.8 81.3h0M89 145.2h0M60.1 106.8h0M90.1 92.3h0M31.7 186.4h0M130.4 164.2h0M53.1 141h0M125.9 181.5h0M138.3 168.9h0M44.1 137.9h0M101.4 94.5h0M131.5 178.8h0M76.2 186.8h0M90.4 164.8h0M40.2 160.8h0M124 203h0M100.6 181h0M115.4 166h0M79.1 185.6h0M108.4 111.7h0M84 163.3h0M111.9 185h0M96.4 99.3h0M100.7 152.1h0M49.8 172h0M76.3 78.8h0M79.2 173.9h0M57.5 108.2h0M109.1 142.1h0M52 210.8h0M85.8 117.9h0M37.9 192.7h0M139.3 114.1h0M54.6 118.9h0M80.3 165.5h0M145 161.4h0M113.9 201.1h0M137.7 104.4h0M94.6 180h0M53.1 96.3h0M89.1 146.1h0M85.8 155.1h0M137.9 129h0M154.7 87.5h0M109.3 81h0M157.6 147.9h0M145.9 81.7h0M71.6 142.9h0M128.1 106.2h0M61.3 191.9h0M90.8 114.7h0M156.7 167.9h0M102.4 165.1h0M105.5 168.3h0M147.6 161.9h0M108 173.7h0M115.6 106.5h0M45.7 82.1h0M148.2 168h0M135.4 186.2h0M56.5 118.9h0M64.9 136.8h0M151 84.6h0M100.8 204.5h0M22.4 130.7h0M151.5 213.1h0M78.1 91.2h0M38.4 79.5h0M27.4 184.4h0M108.3 175.4h0M71.8 156.8h0M115 97.1h0M71.2 166.5h0M78.8 130.5h0M152.5 185.9h0M104.4 119.8h0M144.6 129.3h0M133.9 197.4h0M32.3 153.9h0M53.1 161.2h0M125.4 186.9h0M32.7 189h0M144.1 149.4h0M45.7 174.3h0M99.3 132.9h0M72.7 91.7h0M130.5 98.7h0M98.3 197.8h0M154.5 112.7h0M110 209.8h0M25.8 112.5h0M27 186.1h0M115 118.5h0M56.3 94.2h0M115.1 78.8h0M144.6 96.4h0M135.5 143.3h0M142.1 114h0M67.2 100.3h0M113.8 106.3h0M145.7 85h0M20.7 192.5h0M45.6 183.9h0M49.2 162h0M29.6 178.7h0M46.4 192.4h0M43.3 128.5h0M21 149.2h0M92.5 93.8h0M119.8 129.9h0M89.6 148.2h0M22.9 160.2h0M37.6 145.5h0M59.5 93.9h0M41 156.5h0M138.9 84.4h0M79.4 164.8h0M94.6 86.6h0M144.1 81.8h0M96.2 205.3h0M55.4 149.2h0M110.9 93.7h0M105.7 156.1h0M48.5 175.6h0M97 162.1h0M92 130.2h0M53.7 154.3h0M74.6 138.1h0M69.7 170.7h0M139.2 191h0M123.7 180.2h0M86.8 185.9h0M21 183.3h0M90 210.6h0M105.3 129.7h0M75 154.1h0M62.9 97.1h0M154.4 105.4h0M92.7 148.8h0M74.9 126.7h0M69.5 208.6h0M93.8 90.7h0M76.4 154.9h0M143.4 210.9h0M158.8 200.3h0M42.3 117.2h0M108.5 160.7h0M138.1 158.4h0M47.9 146.1h0M57.6 166.8h0M159.8 156.7h0M37.4 98.8h0M93.4 191.3h0M128.1 121.8h0M34.3 202.5h0M69.2 139.4h0M28 200.6h0M154.6 138h0M134.5 119.2h0M54.4 131.1h0M156.2 117.3h0M36.5 151.1h0M42.7 126h0M83.7 95.2h0M56.9 201.9h0M71.8 111.2h0M128.3 130.4h0M99.8 120.1h0M99 127.2h0M52.1 94.5h0M115.4 169.1h0M78.1 168.5h0M55.1 194.5h0M148 178.9h0M48.1 119.1h0M25.9 120.2h0M45.5 193.5h0M120.6 112.4h0M26.4 195.6h0M125.2 89h0M79.7 206.1h0M123.7 192.2h0M83.7 84.5h0M96.8 211.6h0M63.8 96h0M134.4 153.1h0M44.1 169.5h0M36.4 117.2h0M48 174.4h0M36.2 122h0M21.9 214.7h0M99.2 92.1h0M81.1 103.3h0M21.6 204.6h0M108.2 206.8h0M61.8 102.8h0M130.1 192.3h0M65.2 128.2h0M26.2 155.7h0M152.5 145.6h0M42.4 118.6h0M140 186.2h0M60 168.8h0M79.3 124h0M43.4 118h0M32.3 121.9h0M156.6 210.5h0M133.8 85.3h0M105.6 118.2h0M153.6 143.7h0M24.3 103.2h0M82.9 88.8h0M72.4 157.6h0M94.5 155.4h0M55.8 90.2h0M55.6 144.9h0M77.4 87.2h0M141.1 153.4h0M72.5 79.1h0M50.2 118.6h0M80 200.3h0M142.1 100.3h0M68.1 183h0M135.8 94h0M123.5 208.6h0M97.9 117.3h0M134.8 171.3h0M75.4 198.2h0M44.1 127.1h0M101.1 130.8h0M26.7 97.2h0M58.5 114.9h0M57 156h0M128.6 164.9h0M71.1 116.1h0M142.4 207.3h0M62.9 183h0M91.5 165.2h0M21.4 197.9h0M63.5 177.9h0M101.6 214.1h0M43.4 114.2h0M104.7 196.9h0M66.1 181h0M108 123.4h0M104 112.7h0M22.3 205.4h0M158.5 84.8h0M42.2 96.8h0M33 190h0M95.7 158.7h0M124 112.8h0M128.4 212.7h0M38.8 78.3h0M112 184.5h0M158.7 108.7h0M28.8 146.7h0M45.8 207.4h0M41.3 101.6h0M146.7 92h0M29.5 166.6h0M141.2 85.3h0M48.8 182.4h0M141.9 114.1h0M115.9 159.9h0M143.9 127h0M147.8 97.9h0M34 100.4h0M25 109.6h0M116.8 82.3h0M143.2 93.7h0M116.2 97.5h0M90.4 92.6h0M91.5 133.6h0M71.1 78.5h0M111.7 152.5h0M79 212h0M160 77.7h0M149.9 112.3h0M36.6 194h0M147.4 83.9h0M65.7 166.7h0M124.7 195.5h0M108.4 180.2h0M120 131.6h0M86.6 177.2h0M150 150.4h0M44.5 191.1h0M141.7 83h0M70.3 188.5h0M83.7 89.2h0M159.8 173.5h0M87.3 187.8h0M41.4 171.4h0M93.2 110h0M48.6 135.7h0M82.3 128h0M61.7 133.6h0M133.8 125.9h0M156.2 175.8h0M126.1 129.7h0M89.8 202.1h0M24 159.3h0M85 193.5h0M86.6 200.6h0M114.1 179.8h0M26.1 171.4h0M34.6 89.2h0M99.3 84.6h0M117 135h0M40.7 123.4h0M140.5 154.1h0M95.5 128.9h0M88.8 158h0M94.9 133.8h0M65.6 115h0M141 87h0M45.6 205h0M132.3 146.2h0M130 209h0M61.5 109.3h0M75.1 81.6h0M110 108h0M33.5 141.5h0M159.7 207.4h0M61 125.3h0M88.2 196.9h0M124.2 101.8h0M62.1 86.6h0M33.8 153.6h0M92.2 90.5h0M38.8 157.2h0M138.2 198.2h0M36.8 145.9h0M95.3 147.3h0M152.3 144.8h0M24.7 131.6h0M101.3 109.5h0M26.2 162.8h0M151.9 134.2h0M32.7 111h0M131.1 143.6h0M129.3 203h0M109.4 104.6h0M155.4 170.4h0M132.5 158.9h0M62.2 210.4h0M52.8 104.5h0M116.2 175.6h0M130 187.2h0M152.1 191.6h0M131.3 77.6h0M78.9 160.9h0M67.3 106.7h0M32.7 114.6h0M136.5 99.5h0M69.7 91h0M140.9 148.3h0M150.2 201.1h0M31 163.6h0M154.3 127.2h0M108.7 129.2h0M115 202.9h0M137.1 171.9h0M145 97.1h0M101 83.5h0M127 117.4h0M79.2 212.8h0M132.9 170.9h0M155 175.5h0M59.2 99.5h0M48 121.5h0M35.6 113.1h0M48.9 203.1h0M137.4 165.4h0M64.4 98.1h0M86.1 154.6h0M125.6 115.2h0M108.5 113.1h0M26.2 191.7h0M54.4 86.7h0M125.8 171.1h0M110.5 211.3h0M117.1 184.5h0M46.4 198h0M113.8 157.2h0M114.3 181.7h0M146 201.8h0M38.8 174.7h0M28.7 138.9h0M35.9 108.2h0M67.9 122.9h0M137.7 189.3h0M108.5 177.6h0M76.3 148.1h0M158.3 86.9h0M39.1 140h0M47.6 179.2h0M81.7 104.4h0M47.9 113.9h0M118.4 212.1h0M153 204.7h0M22.2 196.9h0M108.5 113.6h0M41.9 184.9h0M158.9 203.5h0M35.6 155.2h0M157.5 137.6h0M136.5 186.1h0M26.4 200.4h0M30.3 121.9h0M144.2 144.3h0M73.9 91.4h0M38 104.7h0M102.3 165.3h0M81.9 86.4h0M27.9 142.3h0M111.2 173.1h0M40.2 203.2h0M52.4 131.5h0M135.6 165h0M114.3 206.1h0M133.2 99.6h0M98.1 191h0M107.1 159.5h0M31.3 84.5h0M111.3 105.8h0M35.8 212.5h0M69.7 90.1h0M71.8 119h0M36.3 173.1h0M93.1 140.2h0M115.6 195h0M111.8 206.4h0M137.4 215h0M58.7 111.7h0M149.1 122.6h0M128.7 200.5h0M64.3 164h0M94.6 167.2h0M22.3 113.1h0M158.8 101.5h0M116.4 172.9h0M56.7 210.8h0M103 168.1h0M29.8 79h0M40.3 92.7h0M62.8 133.8h0M139.9 188.4h0M146.9 98.9h0M73.9 167.5h0M130.6 111.9h0M131.7 116.6h0M51 130.3h0M53.2 81.1h0M36.6 140.8h0M33.5 93.3h0M44.7 109h0M36.9 86.4h0M86 207h0M30.4 107.9h0M57.5 205.3h0M122.6 87.3h0M64.8 105.5h0M86.1 179.8h0M53.1 146.3h0M153 109.4h0M91.9 208.6h0M113.9 80.2h0M105.3 112.8h0M41.3 96h0M53.2 100.2h0M58 207.8h0M155.6 197.8h0M54.5 168.3h0M100.1 102.2h0M56.1 109.8h0M124 163.6h0M86.9 171.1h0M130.2 109.3h0M154.3 105.8h0M123.2 126.9h0M39.4 133.4h0M101.1 126.4h0M81.5 101.3h0M72.1 210.6h0M137.2 166.1h0M22.5 151.2h0M52.5 113.8h0M33.2 163.6h0M57.2 186.9h0M41.9 173.1h0M120.6 108.8h0M132.5 90.1h0M79.6 151h0M61.1 165.8h0M42.4 108.4h0M121.2 84.7h0M32.9 83.8h0M91.3 149.4h0M120.5 150.5h0M35.2 86.7h0M88 112.1h0M51.4 121.2h0M120 183.9h0M106.9 91.6h0M30 181.2h0M81.5 88.9h0M44.7 183.2h0M86.5 209.7h0M60.8 141.6h0M100.8 78.4h0M57.6 127.8h0M52.2 203.2h0M109.3 200.2h0M158.9 178.1h0M134.1 112.1h0M124.4 171h0M27.1 197.8h0M84.1 124.1h0M66.1 80.6h0M124 104.5h0M86.2 201.9h0M64 198.3h0M92.9 144.2h0M25.3 159h0M93.6 190.9h0M70.3 107.9h0M159.1 137.2h0M62.6 122.7h0M46.5 152.9h0M160.2 154.9h0M46 203.3h0M126.6 197.5h0M98.7 96.9h0M132.7 135.8h0M56.6 115.3h0M21.2 124.2h0M92.6 101.4h0M146.8 105h0M121.2 181h0M48.2 99.4h0M88.4 208.1h0M44.1 87.2h0M155.6 133h0M79.8 125.9h0M122.2 126.2h0M149 132.7h0M62.1 153.9h0M71.5 195.2h0M152.5 153.3h0M87.5 145.8h0M145.5 125.6h0M150.3 165.7h0M66.9 130.7h0M130.3 113.2h0M135.2 99.2h0M28.5 113.6h0M125 196.2h0M33.4 198.2h0M43.1 102.1h0M114.4 211.6h0M157.3 137.3h0M45.5 98.1h0M123.5 85.2h0M115.6 81.7h0M131 156.9h0M44.9 130.2h0M21 188.3h0M92.4 77.8h0M78.3 169.9h0M154 205.9h0M146.7 187h0M135.2 214.5h0M32 206.1h0M41.2 182.6h0M147.2 158.4h0M150.9 89.1h0M142.2 138.3h0M56.3 178.4h0M34 145.5h0M159.9 136.2h0M133.4 182.3h0M86.5 93.5h0M158.6 152.1h0M38.7 165.4h0M145.3 81.8h0M86 176.8h0M43.3 206.1h0M51.3 202.8h0M156.2 184h0M94.9 195.7h0M149.5 99.3h0M39.6 142.3h0M57.8 128h0M157.6 96.5h0M155.6 130.4h0M37.7 116.5h0M99.1 208.6h0M71.1 208.8h0M96.3 196.7h0M29.4 78.4h0M137.4 169.9h0M149.9 214.7h0M99.9 78.2h0M57.8 199.2h0M65.6 211.1h0M157.6 92.3h0M58.2 97.5h0M159.3 163.5h0M42.9 177.8h0M90.7 156.7h0M54.2 89.9h0M74.6 123.6h0M147.6 175h0M107.8 85.1h0M67.3 91.2h0M114 137.1h0M67.2 114h0M51.5 132.6h0M34.4 146.7h0M47.5 170h0M88 94.6h0M117.6 127.9h0M59.1 212.8h0M20.9 89.7h0M130.3 197.1h0M99.5 104.3h0M87.9 123.8h0M59.2 146.8h0M94.7 115.3h0M118.8 185.4h0M55.2 205.5h0M72.8 117.3h0M119.5 190.6h0M122.6 106.6h0M70.4 119.5h0M53.1 185.9h0M114.9 165.2h0M58.5 85.4h0M24.9 210.5h0M131.6 179.3h0M72 114.5h0M141.7 138h0M146.6 138h0M23.2 170.6h0M147.5 109.4h0M65.9 166.4h0M63.9 134.8h0M97.1 130.7h0M35 113.1h0M33.5 89.6h0M44.1 147.9h0M32.2 209.6h0M36.4 168.1h0M113 169.3h0M77.1 109.3h0M84.3 192.5h0M154.7 171.7h0M44.6 166.6h0M106.1 100.8h0M63.6 171.2h0M106.6 185.3h0M99.6 181.5h0M111.7 91.8h0M45.2 191.9h0M22.6 200.6h0M136.5 172.6h0M29.6 87h0M142 214.4h0M33.2 205.4h0M118.2 141.4h0M55 173.5h0M71.9 147.8h0M24.1 181.6h0M69 178.6h0M148.8 142.5h0M130.4 104.5h0M59 165.2h0M81.5 77.3h0M55.9 192.3h0M46.8 91h0M86.8 151.6h0M127.7 156.1h0M122 108.7h0M111 128.6h0M29.5 166.3h0M41.8 153.4h0M55.7 89h0M55.4 118.7h0M72.3 186.4h0M66.4 92h0M25.5 182.1h0M30.6 208.6h0M82 137.7h0M77.2 200.7h0M112.8 154.7h0M100.8 111h0M141.3 88.1h0M110.2 168.2h0M114.1 116.8h0M151.3 80.5h0M71.9 101.9h0M155.8 121.7h0M136.8 131.6h0M41.7 149.1h0M120.5 79.7h0M33.1 104h0M39.5 191h0M152.4 133.7h0M117.4 158.6h0M81.5 116.1h0M62.2 115.1h0M32.4 188.2h0M52.4 93h0M90.8 176.9h0M110.9 189.4h0M112.8 91.5h0M47.1 210.3h0M79.8 129h0M123.9 167.2h0M153.1 210.9h0M54 180.1h0M57.8 186.3h0M64.1 128.1h0M138.2 194.2h0M44.2 98.6h0M62.7 114.1h0M22.1 137.5h0M22.2 196.6h0M119.6 157.8h0M119.8 189.4h0M95.9 113.9h0M47.1 175.3h0M129.3 164.2h0M149.3 189.8h0M66 205.8h0M34.7 123.3h0M150.6 166.6h0M151.4 185h0M38.2 95.8h0M82.7 187.1h0M78.2 194.9h0M89.1 131.8h0M91 121.8h0M79.5 193.1h0M155.5 193.2h0M101.5 78.7h0M96.2 129.1h0M76.9 91.2h0M96.3 205.9h0M24.5 140.8h0M122 211.5h0M87.2 165h0M130.9 81.3h0M132.3 110h0M52.1 174.8h0M105.1 122.2h0M55 148.6h0M23 114.6h0M39.1 119.1h0M127.5 184.3h0M144.7 110.6h0M114.5 93.9h0M59.8 184.1h0M113.2 198.3h0M54.2 186.5h0M130.1 150.8h0M109.7 143.7h0M149.2 207.4h0M56.6 91.3h0M127.8 98.7h0M158.9 143.8h0M137.8 200.8h0M37.7 165.4h0M92.4 116.9h0M39.8 204.8h0M125.6 142h0M47.9 188h0M72.9 134.6h0M144.9 208.2h0M92.9 158h0M157.7 134.4h0M103 152.3h0M55.4 120.8h0M82.8 212.9h0M53.4 185.3h0M29.7 169.7h0M62.6 86.3h0M88.5 81.7h0M107.8 115.7h0M134.4 139.9h0M69 189h0M111.8 131.5h0M47.1 212.2h0M121.5 125.6h0M143 81.1h0M49.5 185.8h0M128.2 107.3h0M20.5 112.9h0M127.2 165.3h0M95.2 160h0M33.8 125.4h0M101.1 101h0M33.9 111.9h0M60 181.1h0M65.3 104.5h0M55.4 157.3h0M63 150h0M131 155h0M144.4 81.7h0M69.4 146.2h0M47.3 164h0M157.8 103h0M131.5 90.4h0M36.8 194.8h0M154.4 91.2h0M121.5 121.1h0M96.6 80.5h0M31.5 196.3h0M154.2 88.4h0M149.6 137.9h0M39.5 215.1h0M122.7 82.9h0M53.8 140.8h0M100.1 200.5h0M117.9 178.3h0M98 159.6h0M49.8 91.8h0M124.6 167h0M111 168.1h0M89.4 182.1h0M38.4 136.1h0M80.8 154.9h0M75.1 136.2h0M121.3 131.9h0M54.1 112.4h0M131.8 142.2h0M140.3 92.9h0M158.1 176.3h0M40.7 85.4h0M30 189.3h0M106.6 90.8h0M153.5 122.5h0M35.9 134h0M92.4 112.3h0M50.3 123.1h0M126.6 133h0M157.1 149.9h0M144.2 126.9h0M45.2 123.7h0M96.4 77.3h0M50 191.2h0M59.6 125.1h0M43.4 112.8h0M135.3 158.3h0M54.3 213.3h0M133 212.8h0M43.4 164.4h0M92.2 143.1h0M122 201.1h0M64.9 96.9h0M116.4 187.2h0M39.1 99.9h0M38.1 130.5h0M141.2 204.8h0M95.3 186.3h0M142.7 121.7h0M95.6 91h0M64.8 97.2h0M41.9 192.5h0M69.8 173.2h0M140.8 182.5h0M133.6 150.4h0M95.8 133.9h0M39.8 170.3h0M129.3 98.2h0M128.1 98.7h0M146.3 180.7h0M122.7 144.6h0M71.3 199.4h0M145.8 176.1h0M120.2 191.3h0M37.6 87.6h0M65.4 113.2h0M114.6 154.9h0M62.3 179h0M120.3 142.4h0M60.4 82.6h0M151.3 91.4h0M57.3 154.8h0M56 128h0M53.5 175.3h0M31.3 215.5h0M92.9 213.2h0M114 194h0M140.5 80.4h0M81.8 102.7h0M125.8 160.1h0M65.7 120.8h0M43.1 132.8h0M34.6 164.1h0M148.8 91.6h0M105.9 182.2h0M86.5 172.2h0M79.6 102.8h0M116.9 215.7h0M151.6 137.6h0M87 180.4h0M30.4 82.1h0M24.2 150h0M48.7 195.8h0M154.6 126.7h0M96.2 113.5h0M35.6 185.2h0M93.7 135.5h0M25.3 192.3h0M121.9 189.3h0M157.8 134.6h0M159.8 145.9h0M78.2 180.3h0M123.5 156.6h0M120.6 178.5h0M107 108.6h0M44.5 113.7h0M28.7 119h0M87.8 203.3h0M109.5 158.2h0M65.7 134.5h0M53 202h0M37.5 146.5h0M36.8 121.3h0M114.6 164.2h0M134.9 192.6h0M151.3 113.1h0M114.5 109.4h0M39.4 115.6h0M125.6 106.1h0M33.5 155.6h0M152.7 131.9h0M128 151.8h0M126.6 107h0M81.8 109.1h0M51.3 175.5h0M80.1 175.1h0M158.8 215.6h0M57.3 169.9h0M151.9 139.1h0M24 142.3h0M63.5 91.6h0M30.3 100.8h0M69.1 146.4h0M69.6 121.3h0M38.9 105.6h0M124.6 128.9h0M60.1 204.4h0M36.6 106.2h0M30.9 134.5h0M86.3 200.7h0M56.4 97.9h0M57.2 205h0M39.6 148.1h0M158.1 86.6h0M83.3 112.6h0M146.9 96.2h0M155.7 200.4h0M35 140.3h0M158.1 78.6h0M33.7 181.2h0M141.3 94.3h0M38.5 161.7h0M141.6 92.5h0M145.8 155h0M21.2 161.2h0M35.3 111.8h0M101.6 110.1h0M140 128.1h0M101.1 214h0M91.4 120.6h0M135.1 141.9h0M60.8 112.5h0M94.8 108h0M55.1 86.9h0M23.9 195.9h0M67.5 138.3h0M42.8 127.7h0M97.9 204.5h0M92.8 116h0M69.8 104.5h0M118.4 159.8h0M90.4 82h0M37.8 202.6h0M98.3 209.4h0M142.9 91.6h0M85.2 83.4h0M110.8 202.6h0M31 197.6h0M95.8 202.2h0M66 168.9h0M84.7 115.2h0M88.4 197.7h0M27.1 174.6h0M87.8 169.3h0M63.7 195.2h0M91.9 175.5h0M111.4 161h0M57.8 192.8h0M142.8 172.2h0M70.4 172.3h0M92.3 91.5h0M110.7 131h0M129.3 166.9h0M130.9 208.5h0M31.2 208.9h0M74.7 195.7h0M108.5 138.1h0M154.2 115.5h0M91.2 187.9h0M144 83.3h0M40.8 113.1h0M126 137.4h0M97.1 125.8h0M25.9 170.9h0M150 118.7h0M114 134.1h0M61.2 140.4h0M120.8 167.6h0M46.1 102.5h0M133.7 170.8h0M105.4 168.1h0M128.6 197h0M49.7 94.8h0M142.6 162.5h0M136.5 106h0M132.6 109.2h0M24.9 88.4h0M89.9 92.6h0M151.9 131.3h0M138 129.5h0M123.2 99.6h0M26.3 192.9h0M101.6 107.4h0M44.7 172.7h0M135.8 183h0M83.9 131.9h0M24.8 78.9h0M125.8 171.1h0M91.4 151.9h0M117.2 205.9h0M141.5 102.4h0M46.5 123.6h0M141.6 131.4h0M51.7 144h0M71 168.9h0M63.2 202.6h0M97.1 120h0M106.5 203.2h0M46 102.7h0M133.7 85.7h0M98.6 180.3h0M59.2 162.9h0M86.7 150.6h0M126.9 99.4h0M21.4 94.2h0M145.5 155.4h0M32.6 194.6h0M108.8 110.1h0M77.2 177.1h0M40 118.7h0M22.6 164.7h0M120.3 122.7h0M91.7 113h0M123.2 114.3h0M21.6 206.5h0M36.1 149h0M144.1 119.2h0M100.5 179h0M76.4 146.2h0M138.7 173.8h0M91.7 156.6h0M56.3 206.3h0M83.4 209h0M55.3 209.9h0M130.5 157.6h0M144.7 94.9h0M131.5 120.8h0M159.1 162.7h0M111.5 199.5h0M45.8 214.5h0M104 186.1h0M114.5 85.7h0M58 161.4h0M84.1 151.7h0M149 94.5h0M55.9 142.6h0M132.9 194.1h0M108.6 172.9h0M28.9 200h0M92.4 159h0M93.2 197.8h0M49.6 147.6h0M101.4 140.9h0M116.6 199.3h0M56.6 120.5h0M123 128.5h0M149.7 99.2h0M133.1 134.7h0M68 101.6h0M38.8 167.6h0M23.7 193.4h0M42.7 96.5h0M133 90.7h0M26.3 90.7h0M118.7 98.5h0M127.3 176.8h0M48 83h0M145.8 127.2h0M111.4 205.5h0M92.5 183.7h0M25 153h0M92.5 180.3h0M36.2 156.2h0M144.8 169.1h0M159.7 157.6h0M46.9 89.6h0M88.5 183.6h0M147.6 89.4h0M22.3 163.8h0M30.8 135.1h0M141.7 87.7h0M40.7 107.5h0M119.3 207h0M153.7 136.2h0M62.3 150h0M24.7 92.3h0M77 89.8h0M45.6 87.4h0M81.4 150.1h0M99.3 89.5h0M158.4 132.4h0M125.7 189.8h0M44.9 125.9h0M153.3 208.7h0M137.9 207.6h0M140 81.8h0M32 149.6h0M116.5 101.9h0M154.7 170.4h0M154 150h0M48 186.5h0M126.9 205h0M81.2 85.3h0M52.3 107.2h0M149.8 78.9h0M101.8 144.6h0M22 125.8h0M138.6 189.5h0M150.5 133.3h0M35.1 181.5h0M39.8 114h0M54.4 179h0M149.9 181.7h0M56 103.6h0M103.6 148.9h0M94.4 120.7h0M153.1 83.9h0M39.9 180.7h0M105.3 180.5h0M51.5 87.9h0M83.5 94.3h0M81.4 139.6h0M21.5 172.1h0M66.5 215.1h0M40 203.6h0M58.7 129.4h0M108.6 176.6h0M38.5 79.5h0M93.5 108.6h0M144.2 86.6h0M110 207.6h0M65.1 204.8h0M155.5 181.8h0M95.8 155.9h0M68.2 161.1h0M72 150h0M157.2 146.8h0M78 80.8h0M54.9 123.8h0M99.4 172.5h0M112.2 144.2h0M135.7 138.9h0M61.4 157.2h0M51.8 100.7h0M63.7 95.6h0M157.1 135.4h0M146.5 173.8h0M133.9 211.5h0M51.3 215.3h0M82.2 120.1h0M156.1 181.8h0M22.6 126.9h0M114.5 170.4h0M33.2 192.4h0M89.5 143h0M128.9 129.1h0M129.1 129.9h0M121.5 176.8h0M90.2 148.4h0M45.2 184.1h0M103.9 155.2h0M62.4 171.1h0M129.8 145.5h0M145.6 149.9h0M136.5 200.6h0M158.4 131.2h0M136.7 127.4h0M71.6 124.5h0M130.9 154.7h0M55.4 195.3h0M20.9 126.6h0M57.1 179.7h0M124.2 181h0M24.8 194h0M101.5 172.1h0M107.6 134.2h0M35.3 114.2h0M72.6 165.8h0M125.7 165.5h0M91.8 168h0M68.6 137.1h0M49.8 126.2h0M88.4 103h0M142.6 186.9h0M84.3 104.9h0M153.3 89.7h0M88.5 84.2h0M92.3 188.2h0M121.1 145.5h0M31.2 154h0M36.8 90.8h0M86.1 186.9h0M95.4 158.5h0M55.8 147.1h0M98.2 179.8h0M67 99.7h0M44.8 152h0M85.3 78.7h0M85.2 99.7h0M155.3 88.7h0M145.8 194.9h0M91.9 194.8h0M69.7 212.3h0M81.1 91.6h0M61.1 208.7h0M146.1 87.4h0M80.4 213.5h0M152.3 206.2h0M117.1 178.1h0M23.6 172.5h0M78.5 215.2h0M80.3 102.3h0M65.8 80.2h0M37.9 208.3h0M33.6 100.4h0M62.9 200.8h0M110.3 125.2h0M135.4 193.7h0M112.5 104.3h0M72.5 174.7h0M86.7 90.7h0M108.1 153.2h0M143.3 84.4h0M35.3 193.9h0M31.8 192h0M64.8 149.3h0M77.3 154h0M37 123.6h0M123.5 185.6h0M44.8 125.4h0M159.5 80.5h0M126 176.2h0M41.7 183.1h0M144 185.5h0M61.1 83.6h0M107.1 131.9h0M139.2 95.8h0M76.1 214.1h0M59.3 122.6h0M114.1 159.3h0M73.7 133.3h0M47.4 190h0M51.8 78.7h0M60.6 199.3h0M56.3 133h0M119.5 116.5h0M90.8 109.9h0M74.6 154.7h0M147.1 90.2h0M96.6 133.8h0M48.3 198.9h0M42.9 124.6h0M147.2 141.8h0M58 177.4h0M133.5 112.6h0M52.1 180.8h0M143.7 189h0M157.8 77.3h0M44.3 169.6h0M51.6 116.1h0M70.4 190.4h0M94.5 125h0M71.6 209.2h0M117.4 191.4h0M159.1 184.2h0M137.8 173.6h0M154 202.7h0M144.7 192.3h0M76.4 111.8h0M137.2 142h0M133.3 115.2h0M102.4 195.1h0M95 125.8h0M86.3 103h0M91.1 171.8h0M66.6 79.4h0M43.7 160.5h0M121.1 129.5h0M81.7 141.8h0M103 110.4h0M48.4 177.5h0M101.9 88.3h0M112 191.8h0M61.1 85.5h0M113.5 164.8h0M84 204.6h0M40 209h0M145.7 213.8h0M42.1 145.4h0M136.4 109.5h0M58.7 133.8h0M81.9 179.7h0M154.7 214.1h0M110.7 92.3h0M52.4 189.7h0M98.2 177.9h0M127.9 149.8h0M77.4 124.7h0M128 141.1h0M159 180.9h0M124.2 145.6h0M128.7 112.3h0M59.8 159.7h0M24.9 193.6h0M54.5 119.6h0M52.7 165.1h0M127.1 177.9h0M102.8 97.2h0M110.9 109.8h0M39.8 211.9h0M122.8 162.3h0M117.3 182.5h0M122.8 79.6h0M151 128.4h0M111.3 152.7h0M120 107.5h0M78.7 96.4h0M46.2 188.1h0M39.9 173.6h0M43.2 182.8h0M52.4 98.8h0M118.6 192.4h0M54.6 79.9h0M108.9 101h0M96.8 159.3h0M144.2 161.4h0M103.1 191.9h0M81.1 99.3h0M92.8 208.2h0M23 136.2h0M99.5 95.9h0M28.3 97.6h0M48.5 83.4h0M69.5 132h0M143.7 116.6h0M118.4 173.2h0M32.6 108h0M104.5 211.9h0M146.7 115.1h0M148.7 106.7h0M145.7 188.4h0M59.6 207h0M98.3 80.6h0M150.7 211.9h0M96.4 134.4h0M43.9 108.4h0M33.8 149h0M137.7 122.4h0M153.6 212h0M67.7 167.2h0M115.5 170.7h0M59.8 118.3h0M78.6 212.3h0M97.2 132.6h0M134.2 149.5h0M126.1 139.7h0M80.5 187.3h0M77.8 137.1h0M28.3 107.2h0M20.7 116.9h0M105.7 179.1h0M81.1 123.9h0M84.7 206h0M102.3 169.4h0M89.2 169.1h0M160 119.4h0M156.6 190.1h0M62.9 101.8h0M55.2 82.3h0M114.8 134.2h0M91.3 205.3h0M110.7 183.1h0M32.3 115.5h0M60.4 131.8h0M23.9 204.9h0M57.3 81.4h0M63.9 157.8h0M113.7 118.5h0M142.4 97h0M152.9 130.1h0M80.6 204.5h0M60.1 126.9h0M135.1 146.9h0M116.4 138.3h0M53.6 198.4h0M52.3 144h0M21.9 110.8h0M113.6 139.1h0M124.1 184.2h0M128 191.9h0M152.1 139.8h0M123.4 90.7h0M110 118.4h0M46.3 188.3h0M117.6 141.4h0M116.3 147.1h0M26.7 185.3h0M75.5 84.3h0M146 115.5h0M126.5 168.6h0M55.3 170.6h0M155.6 148.5h0M132.6 159.9h0M121.2 140.7h0M51.9 98.2h0M109.9 91.7h0M113.5 185.7h0M156.9 203.9h0M71.6 177.2h0M93.7 174.5h0M90.2 170h0M99.9 173.5h0M116.5 101.4h0M130 108.3h0M46.8 198.3h0M98.8 189.6h0M110.1 81.3h0M132.1 89.2h0M82.1 87h0M133.5 130.4h0M24.3 86h0M92.4 123.1h0M149.4 106h0M156.6 140.2h0M69.5 117h0M156.4 84.7h0M147.3 88.4h0M49.3 210.6h0M91.2 181h0M127.5 91.2h0M107.1 178.7h0M73.3 107.4h0M58 204.3h0M80.4 128.8h0M80.1 171.8h0M33.7 112h0M146.2 148.2h0M46 144.8h0M98.2 213.1h0M146.8 95.5h0M72.4 194.5h0M88.8 79.2h0M78.4 110h0M39.6 193.7h0M90.4 92h0M91.1 88.7h0M118.8 96.5h0M46 144.2h0M83.3 203.9h0M107 183.3h0M153 209.5h0M112.3 92.4h0M58.9 132.7h0M74.4 106.2h0M48.6 105.8h0M55.5 200.3h0M143.3 80.2h0M158.7 196.2h0M121.9 155.7h0M45.6 201.7h0M54.3 194.6h0M149 118.6h0M144.6 199.7h0M137.8 165h0M156.3 94.4h0M124.4 85.4h0M27.2 100.9h0M132.1 179.2h0M64.7 115.9h0M25.2 186.6h0M144.9 159.9h0M24.3 106.6h0M101.9 96.1h0M156.2 103.6h0M121.5 116.3h0M44.6 106.4h0M131.5 106.5h0M116 107.8h0M111.6 191.2h0M141 169.4h0M137.6 159.6h0M41.4 92.9h0M93.8 114h0M95.6 189.5h0M68.9 205.8h0M159.8 118.6h0M83.4 193.7h0M98 187.7h0M79.2 133.3h0M141.8 215.5h0M79.7 191.7h0M129.6 184.6h0M105.7 101.2h0M136.9 185.9h0M76.3 174.2h0M34.8 210.4h0M58.2 96h0M60.1 156.3h0M52 95.3h0M76.3 139h0M43.4 94h0M109.1 172.5h0M73.1 213.1h0M132.8 94.3h0M75.8 166.3h0M81.4 187h0M56.4 201.2h0M121.4 149.5h0M137 200.3h0M78.8 130.2h0M25.3 124.5h0" stroke="#fff" stroke-width="1.5" stroke-linecap="round" fill="none"/><path d="M51.6 164.1h0M101.1 132.1h0M100.7 149.9h0M122.4 117h0M110.9 214.8h0M97.2 199.6h0M70.6 199.7h0M72 155.6h0M114.9 84.5h0M37.6 194.8h0M66.5 108h0M158.1 195.3h0M151.4 214.1h0M130.7 123.2h0M38.2 98h0M133.1 97.3h0M150.9 137.2h0M98.6 207.9h0M114 185.8h0M40.4 199.5h0M88.5 214.4h0M158.1 186.4h0M79.4 203.5h0M56.6 97.7h0M132.5 88.6h0M67.8 153.8h0M57.2 210.5h0M96.9 110.9h0M110.3 83.1h0M90.9 192.9h0M135.9 158.1h0M84.6 190.8h0M40.2 149.7h0M149.9 176h0M154.1 199.7h0M108.6 203.8h0M56.5 156.1h0M29.1 115.5h0M153.8 194.8h0M20.4 131.3h0M135.8 195.7h0M93.4 171.7h0M129.8 109.3h0M156 120.3h0M75.4 106.6h0M75.4 201.7h0M122.8 215.5h0M66.4 102.7h0M25.3 85.7h0M56.3 180.7h0M67.8 114.8h0M86.8 209.8h0M132.6 179.5h0M97.7 122.2h0M66 132h0M91.3 109.1h0M86.8 190.7h0M37.1 103.3h0M60 119.7h0M78.6 197h0M48.9 77.8h0M60 149.3h0M35.6 145.1h0M146.8 163.1h0M76.9 194.5h0M54.9 177.6h0M134.3 103.9h0M89.2 209.8h0M43.5 186.4h0M45.9 99.4h0M109.4 126.9h0M98 157.5h0M124.4 83.7h0M55.9 165.7h0M53.4 180.3h0M124.7 122.4h0M66.3 110.2h0M157.3 142.2h0M71.2 190.5h0M145 86.2h0M155.2 146.9h0M140.9 89.6h0M136.7 113.2h0M76.5 131.8h0M49.2 113.5h0M90.5 129.6h0M62.6 174.6h0M66.3 103.3h0M122.3 91.1h0M34.6 130.3h0M52.4 177.2h0M128.6 174.2h0M92 165.7h0M93.3 134h0M127 94h0M38.5 184.8h0M109.7 190.6h0M71.1 205.9h0M28.4 191.9h0M130 96.5h0M141 77.9h0M107.8 124h0M79.4 153.9h0M26 177.3h0M21.3 103.4h0M25.9 93.5h0M155.5 89.2h0M150.7 112.3h0M61.3 85.4h0M105.1 212.7h0M104.5 201.4h0M79.5 158.4h0M144.5 82.9h0M58.7 195.1h0M48.4 181.1h0M53 157.4h0M41.2 83.2h0M25.1 214.5h0M129.3 136.1h0M127.7 190.7h0M146.6 202.6h0M40.6 181.8h0M47.7 82h0M51.2 206.6h0M34 205.9h0M42.2 114.6h0M157.2 84.9h0M71.3 214.6h0M46.4 137.4h0M121.3 84.7h0M67.3 193.9h0M89.3 79.1h0M29 198.1h0M95.5 79.9h0M39.5 159.1h0M43.4 191.7h0M74.7 135.4h0M93.9 131.9h0M67.2 137.5h0M132.9 203.7h0M156 184.8h0M108.9 189.3h0M32.7 152.8h0M22.1 125.9h0M35.7 108.3h0M148.3 94.7h0M78.8 185.8h0M65.4 186.2h0M101.7 89.2h0M65.7 194.1h0M99.4 146h0M128.5 151.7h0M81.9 163.7h0M68.4 150.6h0M44.3 121.1h0M145.5 172.8h0M55.3 83.1h0M139.9 120.7h0M154.6 145.8h0M51.4 119.9h0M82.4 193.1h0M32.4 101.6h0M59.9 133h0M128.7 199.5h0M131 106.2h0M75.4 180.8h0M59.7 89.5h0M80.3 148h0M92.5 138.8h0M69.5 118.6h0M84.9 183.3h0M32.1 176.5h0M24.3 184.5h0M66.1 102.6h0M135 174.9h0M121.5 77.4h0M113.5 191.7h0M156.2 203.1h0M62.2 124.7h0M36.4 102.1h0M97 92.6h0M126.2 92.9h0M121.3 91.2h0M75.2 100.8h0M142.3 155.1h0M47.4 139h0M73.6 97h0M95.7 172.7h0M41.5 146.6h0M86.9 99h0M23.3 140.8h0M98.8 184h0M67.5 121.9h0M151.5 124.3h0M128.7 136.4h0M29.9 144.3h0M47.9 178.9h0M104.4 88h0M46.7 151.5h0M59.3 149.6h0M129.2 110.7h0M77.7 204.6h0M100 98.8h0M141.1 102.3h0M33 124.1h0M120.5 199.4h0M50.5 211.3h0M116.9 213.4h0M106 113.8h0M109.9 191.8h0M65.7 110.6h0M33.2 165.3h0M89.1 148h0M51.3 87.7h0M159.9 190.4h0M141.6 188.3h0M132.4 104.8h0M61.2 175.6h0M103.2 140.1h0M137.6 97.2h0M112.5 112.8h0M117.7 82.8h0M147.9 122h0M41.6 188h0M136.2 94h0M58.3 201h0M41.2 90h0M38.2 110.3h0M54.8 160.2h0M134.3 124.5h0M66.7 212.5h0M39.3 192h0M146.9 180.4h0M135.8 185.9h0M152.6 93.1h0M130.5 112h0M53.5 145.4h0M32.6 167.6h0M67.9 159.6h0M22.7 92.4h0M82.2 168.7h0M144.8 161.7h0M75.5 146.4h0M20.4 101.3h0M83 181.2h0M65.9 96h0M40 148.6h0M73.9 211.2h0M46.6 119.9h0M93.3 169.9h0M78.2 146.7h0M100.6 115h0M135.2 167.1h0M114.9 212.3h0M133.3 82.5h0M52 197.4h0M43.3 164.8h0M70.1 201.8h0M147.5 175.6h0M74.1 189.7h0M49.2 110.8h0M29.2 110.1h0M25.8 90h0M35.2 186.2h0M148.5 77.3h0M124.6 80.3h0M41.1 161.2h0M105.8 167h0M122.8 187.6h0M143.2 102h0M33.6 138.5h0M23.3 109h0M94.8 91.6h0M151.5 133.6h0M50.1 116.9h0M150.7 124.5h0M40.5 90.5h0M139.6 95.1h0M110.1 142.5h0M27.5 169.1h0M99.1 197.8h0M140.3 92.3h0M70.9 93.6h0M111.4 97.1h0M152.6 179.8h0M52.1 160h0M125.1 158h0M137 105h0M84.2 108.4h0M54 93.7h0M83.6 133.8h0M112.9 196.4h0M94.4 194.8h0M132.4 201.7h0M47.3 87.6h0M110.9 102h0M31.3 157.8h0M135.3 160.4h0M47.1 175.2h0M136 176.4h0M41.5 206.3h0M82.9 205.7h0M123.9 200.8h0M154.4 91.9h0M78.9 191h0M105.2 201.8h0M66.1 194.8h0M54.6 204.6h0M95.8 123.7h0M68.7 194.1h0M143.3 96.3h0M76.6 188.4h0M63.7 164.8h0M35.2 158.5h0M71.1 127.4h0M117.7 94.3h0M132.5 107.4h0M113.8 96.9h0M90.6 201.7h0M153.9 147.9h0M119.7 114.8h0M149.7 84.3h0M84.7 165.7h0M87.5 138h0M75.2 98.1h0M100.4 77.9h0M45.9 93h0M74.6 127.4h0M121.1 203.4h0M55.8 109.3h0M75.8 207.9h0M122.2 133.7h0M105.8 99h0M88.7 115.2h0M72.2 204.7h0M141.1 132.7h0M87.2 89.1h0M130.3 111.7h0M34.1 203.8h0M85.2 191.2h0M144.3 128h0M155.9 110.9h0M146.6 158.8h0M136.8 91.1h0M117.9 86.3h0M112.9 209.4h0M126.2 110.6h0M51.5 170h0M83.7 146.8h0M32.7 172.4h0M96.3 214.5h0M133.5 117.5h0M117.9 157.2h0M26.7 176.3h0M26.3 126.1h0M159.7 121.2h0M155.9 166.4h0M114.1 211.2h0M119.9 201.3h0M42.5 116h0M139.6 123h0M61.5 104.8h0M146.5 93.1h0M128.9 143.5h0M107.8 185h0M118.5 148.6h0M66.2 122.6h0M67.7 134.9h0M51.5 138.4h0M83.1 211.6h0M25 206.6h0M122.2 114.1h0M141 105.2h0M59.4 204.7h0M131.7 116h0M84.1 104.3h0M59.7 180.4h0M51.7 107.2h0M129.1 117.5h0M130.3 171.1h0M81.4 170.5h0M34.5 193.4h0M108.1 164.7h0M63.1 152.8h0M93.5 118.7h0M55.6 110.4h0M157.6 200.9h0M152.3 112.7h0M105.9 105.3h0M159.2 141.6h0M151.6 192.7h0M138.9 122.7h0M54.8 116.8h0M72.4 214.3h0M35.7 163h0M55.1 171.9h0M67.1 208.8h0M87.6 134.2h0M104.2 197.9h0M126.4 83.4h0M113.4 115.4h0M148.1 155.6h0M153.8 185.2h0M98.5 184.4h0M151.3 99.6h0M75.9 153h0M101.5 93.9h0M91.3 96.9h0M135.1 107.1h0M116 172h0M96.3 95.8h0M65.9 116.2h0M85.8 203.6h0M149.9 143.4h0M142.4 134.4h0M23.9 194.7h0M78.9 100.8h0M68.7 185.6h0M73.6 204.6h0M67.2 109h0M22.2 138.7h0M100.5 190.2h0M58.2 199.7h0M98.8 112.4h0M146 80.3h0M63.6 78.9h0M121.6 124.7h0M66.5 95.6h0M105.4 90.7h0M53.7 151.3h0M127.3 142.3h0M67.6 132.2h0M68.5 211.1h0M48.4 152.8h0M150.9 130.4h0M79.8 212.2h0M49.7 97.3h0M79 84.9h0M35 209.4h0M149.1 144.2h0M43.9 124.8h0M92.5 155h0M22.5 198.3h0M28.6 200.9h0M53 187.8h0M86.6 200.8h0M79.2 111.6h0M121.1 122.9h0M63.2 162.8h0M57 137.9h0M75.8 184.5h0M130.6 173.9h0M68.1 83.4h0M111.7 126.5h0M91.8 101.9h0M97.6 133h0M32.7 122.8h0M131.6 187.5h0M92.2 180.5h0M71.1 115h0M133.2 173.1h0M87.4 115.6h0M83.4 155.1h0M31.3 203.2h0M104.7 125.1h0M154.1 177.9h0M38 135.6h0M106.5 102.8h0M143.3 195.5h0M104 92.6h0M63.1 101.4h0M96.3 178.7h0M160 151.2h0M55.8 80.5h0M101.1 206.6h0M143 112.6h0M23 134.8h0M84.5 187.3h0M100.8 97.3h0M56.1 189.1h0M51.6 138h0M97.3 201.4h0M62.2 161.6h0M158.9 204.6h0M157.1 202.3h0M33.4 193.9h0M92.6 109.6h0M132.5 157.6h0M128.7 205.7h0M65.8 124.4h0M144.5 119.9h0M49.2 177.2h0M141.3 164.8h0M71.6 77.1h0M65.7 79.7h0M49.1 190.8h0M137.5 197h0M68.8 104.8h0M109.5 149.8h0M31.2 125.6h0M95.9 193.5h0M109.6 210.1h0M76.2 130.5h0M81.8 156.9h0M110.1 159.5h0M67.1 82h0M58.3 144.6h0M144.8 126.6h0M27.4 99.8h0M91.6 161.6h0M136.9 207.3h0M149.8 108h0M31 130.9h0M109.4 211.4h0M127 142.6h0M96.8 126.5h0M137.4 202.2h0M109.9 156.5h0M91.6 143h0M43.4 175.1h0M141.3 166.6h0M32.6 141.3h0M68.1 97h0M118.8 101h0M69.5 82.5h0M140 116.3h0M114.1 124.3h0M30.8 146.6h0M150.6 84.3h0M140.1 86.6h0M105.5 150.1h0M30.8 87.5h0M71.3 142.6h0M126.6 211.4h0M96.9 191.4h0M67.7 122.2h0M129.7 117.3h0M33.2 127.6h0M91.6 209.7h0M142.6 208.1h0M23.8 95h0M142.1 156.8h0M88.4 149.6h0M60.2 103h0M111.8 162.1h0M154.3 144.8h0M115.9 132.1h0M57 203h0M153.2 123.9h0M115.3 193.6h0M111.9 151.9h0M103.7 153.8h0M33.3 151.8h0M133.2 143.6h0M59.9 141.9h0M64.2 194.9h0M123.6 145.4h0M138.3 100.8h0M127.7 156.6h0M145.5 127.5h0M114.2 117.2h0M107.4 87.1h0M137.4 111.5h0M116.4 141.6h0M132.7 215h0M50.6 113.2h0M21.4 138.6h0M132.1 187.8h0M57.4 91.7h0M94.1 87.5h0M156.8 113h0M46.2 92.6h0M146.8 196.9h0M87 106.4h0M89.1 117.9h0M154.4 129.1h0M85.2 178.1h0M117.8 97.3h0M60 135.8h0M156.2 180.7h0M46.7 101.2h0M130.8 116.7h0M59.4 106.4h0M117.5 78.3h0M64 180.7h0M74.5 100.3h0M131.6 93.2h0M95.8 126.7h0M155.8 112.1h0M146.1 127.3h0M99.1 201.6h0M99.3 120.3h0M79.1 152.3h0M159.3 126.6h0M89.2 146.3h0M89.1 139.9h0M47.3 143.2h0M53.7 120h0M34.7 170.5h0M137.7 169.9h0M101.4 159.7h0M149.2 85.8h0M150.9 168.8h0M57.4 113.4h0M106.8 180.8h0M70.4 185.1h0M65.3 182.5h0M20.9 82h0M91.4 151.7h0M148.3 93.2h0M73.7 171.6h0M100.3 89.5h0M151.4 125.8h0M60.1 170.6h0M71.2 178h0M38.9 161.7h0M20.8 178.7h0M157.8 142.1h0M76.4 135.6h0M136 204.6h0M159.2 119.7h0M87.2 155h0M73.2 201.8h0M145 156.4h0M79.3 93.4h0M88.8 140.5h0M108 212.5h0M138.9 85.4h0M62.3 183.1h0M147.2 78.2h0M106.6 133.5h0M136.5 95.3h0M69.6 198.8h0M77.1 171.3h0M62.8 122.6h0M104 83.8h0M134.7 174.9h0M102 79.2h0M83 99.1h0M126.2 144h0M41 177h0M103.6 116.4h0M96.5 91.7h0M105.3 196.6h0M116.5 166.9h0M133.9 163.8h0M88.3 146.9h0M100 208.3h0M82.8 151.4h0M116.4 99.9h0M160 168.2h0M132.4 142.7h0M46.3 143.2h0M91.1 194.7h0M114.4 95.1h0M28 84.7h0M45.7 141h0M84.9 150.4h0M99.2 180.5h0M54.6 172.7h0M154.1 157.8h0M84.5 158.5h0M73.2 170.4h0M136.4 210.9h0M138.6 90.8h0M82.3 176.1h0M32.6 79.6h0M116.9 155.8h0M95 84.5h0M70.1 138.8h0M75.1 124.8h0M85.6 127.7h0M96.2 114.4h0M68.1 153.5h0M106.9 96.4h0M69.9 161.3h0M110.7 165.7h0M104.8 136.1h0M121.5 92.5h0M118 133.7h0M96.9 206.4h0M54.9 191.3h0M46.3 151.8h0M108.3 135.5h0M120.6 82.7h0M91.4 211.2h0M79.2 206.8h0M50.9 211h0M81.1 205.6h0M40.1 134.1h0M135.7 190.5h0M129.1 81.3h0M142.1 116.6h0M55 177.5h0M36.5 198.2h0M120.1 187.3h0M121.4 103.5h0M128.4 108.1h0M115 160.6h0M99.7 116.4h0M26.8 190.7h0M136.8 119.9h0M148.1 125.8h0M128.1 156.6h0M136.2 210.1h0M71.8 203.1h0M137.6 212h0M20.9 130.8h0M58 163.1h0M34.3 114.2h0M28.5 146.8h0M128.2 132.6h0M150.8 176.8h0M50.8 86.4h0M53 202.6h0M65.3 125.8h0M156 215h0M88.8 168.7h0M35.3 203.1h0M88.6 192.8h0M73 114.9h0M127.5 162.5h0M132.1 190.5h0M119 167.1h0M144 141.3h0M74.3 139.9h0M74.3 133h0M122.9 150.8h0M27.9 89.2h0M92.5 139.5h0M42.3 209.3h0M137.7 122.7h0M118 152.5h0M130.9 193.1h0M60.8 139.6h0M110 185.2h0M114 82h0M57.7 99.6h0M133.1 87.3h0M56.4 150.1h0M39.4 146.4h0M155.4 128h0M116.7 87.3h0M59.4 93.7h0M40.7 170.6h0M119.8 157.6h0M145.4 174.8h0M106 166.7h0M23.8 176.5h0M142.5 203.1h0M120.5 160.5h0M75.1 157.1h0M47.3 149h0M115.1 112.7h0M151.7 164.9h0M73.6 104.9h0M105 96.4h0M32.4 112.5h0M63.4 81.1h0M83.5 185.6h0M131.4 123.1h0M114.6 176.5h0M24 189h0M97.3 148.4h0M54.5 90.3h0M93.3 108.3h0M89.1 85h0M92.2 104.3h0M140.8 98.5h0M154.1 179.8h0M69.3 118.3h0M28 143.8h0" stroke="#fff" stroke-width="2.1" stroke-linecap="round" fill="none"/><rect x="41.7" y="98.8" width="99.2" height="99.4" fill="none" stroke="#f6f010" stroke-width="2.3" stroke-dasharray="7.4 4.4"/><g fill="#f00" stroke="none"><rect x="19.4" y="75.1" width="42" height="2.5"/><rect x="19.4" y="75.1" width="2.5" height="50"/><polygon points="69.5,76.3 57.3,70.3 61,76.3 57.3,82.3"/><polygon points="20.6,132.8 14.5,120.6 20.6,124.3 26.7,120.6"/></g><g font-family="Liberation Serif, Times New Roman, serif" font-weight="bold" font-style="italic" font-size="20.5" fill="#000"><text x="7.2" y="77.4">o</text><text x="68.6" y="74">x</text><text x="7.3" y="138.4">y</text></g><g transform="translate(20.2,239.4)"><use href="#tb"/><path d="M11.2 35V16.2M11.2 70V51.2M11.2 105V86.2M11.2 143V121.2M33.4 35V16.2M33.4 70V51.2M33.4 105V86.2M33.4 143V121.2M57.5 35V16.2M57.5 70V51.2M57.5 105V86.2M57.5 143V121.2M80.3 35V16.2M80.3 70V51.2M80.3 105V86.2M80.3 143V121.2M104 35V16.2M104 70V51.2M104 105V86.2M104 143V121.2M129.3 35V16.2M129.3 70V51.2M129.3 105V86.2M129.3 143V121.2" stroke="#1a1aff" stroke-width="1.5" fill="none"/><path d="M11.2 -3.5V15M11.2 35V50M11.2 70V85M11.2 105V120M33.4 -3.5V15M33.4 35V50M33.4 70V85M33.4 105V120M57.5 -3.5V15M57.5 35V50M57.5 70V85M57.5 105V120M80.3 -3.5V15M80.3 35V50M80.3 70V85M80.3 105V120M104 -3.5V15M104 35V50M104 70V85M104 105V120M129.3 -3.5V15M129.3 35V50M129.3 70V85M129.3 105V120" stroke="#ff2020" stroke-width="1.5" fill="none"/><path d="M5.9 26.6L11.2 16.2L16.5 26.6M5.9 61.6L11.2 51.2L16.5 61.6M5.9 96.6L11.2 86.2L16.5 96.6M5.9 131.6L11.2 121.2L16.5 131.6M28.1 26.6L33.4 16.2L38.7 26.6M28.1 61.6L33.4 51.2L38.7 61.6M28.1 96.6L33.4 86.2L38.7 96.6M28.1 131.6L33.4 121.2L38.7 131.6M52.2 26.6L57.5 16.2L62.8 26.6M52.2 61.6L57.5 51.2L62.8 61.6M52.2 96.6L57.5 86.2L62.8 96.6M52.2 131.6L57.5 121.2L62.8 131.6M75 26.6L80.3 16.2L85.6 26.6M75 61.6L80.3 51.2L85.6 61.6M75 96.6L80.3 86.2L85.6 96.6M75 131.6L80.3 121.2L85.6 131.6M98.7 26.6L104 16.2L109.3 26.6M98.7 61.6L104 51.2L109.3 61.6M98.7 96.6L104 86.2L109.3 96.6M98.7 131.6L104 121.2L109.3 131.6M124 26.6L129.3 16.2L134.6 26.6M124 61.6L129.3 51.2L134.6 61.6M124 96.6L129.3 86.2L134.6 96.6M124 131.6L129.3 121.2L134.6 131.6" stroke="#1a1aff" stroke-width="1.5" fill="none"/><path d="M5.9 4.6L11.2 15L16.5 4.6M5.9 39.6L11.2 50L16.5 39.6M5.9 74.6L11.2 85L16.5 74.6M5.9 109.6L11.2 120L16.5 109.6M28.1 4.6L33.4 15L38.7 4.6M28.1 39.6L33.4 50L38.7 39.6M28.1 74.6L33.4 85L38.7 74.6M28.1 109.6L33.4 120L38.7 109.6M52.2 4.6L57.5 15L62.8 4.6M52.2 39.6L57.5 50L62.8 39.6M52.2 74.6L57.5 85L62.8 74.6M52.2 109.6L57.5 120L62.8 109.6M75 4.6L80.3 15L85.6 4.6M75 39.6L80.3 50L85.6 39.6M75 74.6L80.3 85L85.6 74.6M75 109.6L80.3 120L85.6 109.6M98.7 4.6L104 15L109.3 4.6M98.7 39.6L104 50L109.3 39.6M98.7 74.6L104 85L109.3 74.6M98.7 109.6L104 120L109.3 109.6M124 4.6L129.3 15L134.6 4.6M124 39.6L129.3 50L134.6 39.6M124 74.6L129.3 85L134.6 74.6M124 109.6L129.3 120L134.6 109.6" stroke="#ff2020" stroke-width="1.5" fill="none"/></g><g stroke="#ececec" stroke-width="0.8"><line x1="247.8" y1="216.7" x2="247.8" y2="78.7" /><line x1="285" y1="193.7" x2="285" y2="55.6" /><line x1="322.3" y1="170.6" x2="322.3" y2="32.6" /><line x1="359.5" y1="147.6" x2="359.5" y2="9.5" /><line x1="210.6" y1="233.6" x2="359.5" y2="141.4" /><line x1="210.6" y1="207.2" x2="359.5" y2="115" /><line x1="210.6" y1="180.8" x2="359.5" y2="88.6" /><line x1="210.6" y1="154.5" x2="359.5" y2="62.3" /><line x1="210.6" y1="128.1" x2="359.5" y2="35.9" /><line x1="210.6" y1="101.7" x2="359.5" y2="9.5" /><line x1="513.5" y1="236" x2="513.5" y2="97.9" /><line x1="475" y1="213.9" x2="475" y2="75.8" /><line x1="436.5" y1="191.8" x2="436.5" y2="53.7" /><line x1="398" y1="169.7" x2="398" y2="31.6" /><line x1="513.5" y1="229.8" x2="359.5" y2="141.4" /><line x1="513.5" y1="203.4" x2="359.5" y2="115" /><line x1="513.5" y1="177" x2="359.5" y2="88.6" /><line x1="513.5" y1="150.7" x2="359.5" y2="62.3" /><line x1="513.5" y1="124.3" x2="359.5" y2="35.9" /><line x1="513.5" y1="97.9" x2="359.5" y2="9.5" /><line x1="401.8" y1="305.1" x2="247.8" y2="216.7" /><line x1="439" y1="282.1" x2="285" y2="193.7" /><line x1="476.3" y1="259" x2="322.3" y2="170.6" /><line x1="513.5" y1="236" x2="359.5" y2="147.6" /><line x1="326.1" y1="306.1" x2="475" y2="213.9" /><line x1="287.6" y1="284" x2="436.5" y2="191.8" /><line x1="249.1" y1="261.9" x2="398" y2="169.7" /><line x1="210.6" y1="239.8" x2="359.5" y2="147.6" /></g><g stroke="#555" stroke-width="0.9"><line x1="364.6" y1="328.2" x2="513.5" y2="236" /><line x1="364.6" y1="328.2" x2="210.6" y2="239.8" /><line x1="210.6" y1="239.8" x2="210.6" y2="101.7" /><line x1="364.6" y1="328.2" x2="362" y2="326.6" /><line x1="401.8" y1="305.1" x2="399.2" y2="303.5" /><line x1="439" y1="282.1" x2="436.4" y2="280.5" /><line x1="476.3" y1="259" x2="473.7" y2="257.4" /><line x1="513.5" y1="236" x2="510.9" y2="234.4" /><line x1="364.6" y1="328.2" x2="367.2" y2="326.6" /><line x1="326.1" y1="306.1" x2="328.7" y2="304.5" /><line x1="287.6" y1="284" x2="290.2" y2="282.4" /><line x1="249.1" y1="261.9" x2="251.7" y2="260.3" /><line x1="210.6" y1="239.8" x2="213.2" y2="238.2" /><line x1="210.6" y1="233.6" x2="213.6" y2="235.3" /><line x1="210.6" y1="207.2" x2="213.6" y2="208.9" /><line x1="210.6" y1="180.8" x2="213.6" y2="182.5" /><line x1="210.6" y1="154.5" x2="213.6" y2="156.2" /><line x1="210.6" y1="128.1" x2="213.6" y2="129.8" /><line x1="210.6" y1="101.7" x2="213.6" y2="103.4" /></g><g stroke-width="0.6" stroke-linejoin="round"><polygon points="213.4,228.6 213,229.9 212.7,231 212.3,232 212,232.7 211.6,233.3 211.3,233.6 210.9,233.7 210.6,233.6 359.5,141.4 359.8,141.5 360.2,141.4 360.5,141.1 360.9,140.5 361.2,139.8 361.6,138.8 361.9,137.7 362.3,136.4" fill="#352a87" stroke="#352a87"/><polygon points="217,177.9 216.7,178.4 216.3,178.8 215.9,179.3 215.5,179.6 215.1,180 214.8,180.3 214.4,180.6 214,180.8 213.6,181 213.2,181.1 212.9,181.2 212.5,181.3 212.1,181.3 211.7,181.3 211.4,181.2 211,181 210.6,180.8 359.5,88.6 359.9,88.8 360.2,89 360.6,89.1 361,89.1 361.4,89.1 361.7,89 362.1,88.9 362.5,88.8 362.9,88.6 363.3,88.4 363.6,88.1 364,87.8 364.4,87.4 364.8,87.1 365.2,86.6 365.5,86.2 365.9,85.7" fill="#0dadbb" stroke="#0dadbb"/><polygon points="214.5,222.8 214.1,224.9 213.8,226.9 213.4,228.6 362.3,136.4 362.6,134.7 363,132.7 363.4,130.6" fill="#343fb1" stroke="#343fb1"/><polygon points="215.5,216.5 215.2,218.7 214.8,220.8 214.5,222.8 363.4,130.6 363.7,128.6 364,126.5 364.4,124.3" fill="#1558da" stroke="#1558da"/><polygon points="216.3,210.4 216,212.5 215.8,214.5 215.5,216.5 364.4,124.3 364.6,122.3 364.9,120.3 365.2,118.2" fill="#046de0" stroke="#046de0"/><polygon points="217,204.2 216.7,207.3 216.3,210.4 365.2,118.2 365.5,115.1 365.9,112" fill="#117ada" stroke="#117ada"/><polygon points="217.7,197.9 217.4,201.1 217,204.2 365.9,112 366.3,108.9 366.6,105.7" fill="#1487d3" stroke="#1487d3"/><polygon points="218.4,191.7 218,194.9 217.7,197.9 366.6,105.7 366.9,102.7 367.3,99.5" fill="#0998d1" stroke="#0998d1"/><polygon points="220.2,173.2 219.9,173.7 219.5,174.3 219.2,174.8 218.8,175.4 218.4,175.9 218.1,176.4 217.7,177 217.4,177.4 217,177.9 365.9,85.7 366.3,85.2 366.6,84.8 367,84.2 367.3,83.7 367.7,83.2 368,82.6 368.4,82.1 368.7,81.5 369.1,81" fill="#24b5aa" stroke="#24b5aa"/><polygon points="219,185.6 218.7,188.7 218.4,191.7 367.3,99.5 367.6,96.5 367.9,93.4" fill="#06a4c9" stroke="#06a4c9"/><polygon points="219.6,179.4 219.3,182.6 219,185.6 367.9,93.4 368.2,90.4 368.5,87.2" fill="#0dadbb" stroke="#0dadbb"/><polygon points="220.2,173.2 219.9,176.3 219.6,179.4 368.5,87.2 368.8,84.1 369.1,81" fill="#24b5aa" stroke="#24b5aa"/><polygon points="220.8,166.9 220.5,170 220.2,173.2 369.1,81 369.4,77.8 369.7,74.7" fill="#36b99c" stroke="#36b99c"/><polygon points="221.5,160.7 221.1,163.8 220.8,166.9 369.7,74.7 370,71.6 370.3,68.5" fill="#5abe88" stroke="#5abe88"/><polygon points="222.1,154.6 221.8,157.7 221.5,160.7 370.3,68.5 370.6,65.5 371,62.4" fill="#86c074" stroke="#86c074"/><polygon points="223.4,168.4 223.1,168.9 222.7,169.4 222.4,169.9 222,170.4 221.6,171 221.3,171.5 220.9,172.1 220.6,172.6 220.2,173.2 369.1,81 369.5,80.4 369.8,79.9 370.2,79.3 370.5,78.8 370.9,78.2 371.2,77.7 371.6,77.2 371.9,76.7 372.3,76.2" fill="#44bb97" stroke="#44bb97"/><polygon points="222.7,148.4 222.4,151.5 222.1,154.6 371,62.4 371.3,59.3 371.6,56.2" fill="#b6be64" stroke="#b6be64"/><polygon points="223.4,142.2 223.1,145.2 222.7,148.4 371.6,56.2 372,53 372.3,50" fill="#e2b957" stroke="#e2b957"/><polygon points="224.2,136 223.8,139 223.4,142.2 372.3,50 372.7,46.8 373,43.8" fill="#f2b84e" stroke="#f2b84e"/><polygon points="225,129.8 224.7,131.8 224.4,133.9 224.2,136 373,43.8 373.3,41.7 373.6,39.6 373.8,37.6" fill="#fdbe3d" stroke="#fdbe3d"/><polygon points="225.9,123.6 225.6,125.5 225.3,127.6 225,129.8 373.8,37.6 374.2,35.4 374.5,33.3 374.8,31.4" fill="#fbd02c" stroke="#fbd02c"/><polygon points="227.1,117.8 226.7,119.5 226.3,121.4 225.9,123.6 374.8,31.4 375.2,29.2 375.6,27.3 376,25.6" fill="#f8ee14" stroke="#f8ee14"/><polygon points="229.9,165.5 229.5,165.3 229.1,165.2 228.7,165.1 228.3,165 228,165 227.6,165.1 227.2,165.2 226.8,165.3 226.4,165.5 226.1,165.8 225.7,166 225.3,166.4 224.9,166.7 224.6,167.1 224.2,167.5 223.8,168 223.4,168.4 372.3,76.2 372.7,75.8 373.1,75.3 373.4,74.9 373.8,74.5 374.2,74.2 374.6,73.8 374.9,73.6 375.3,73.3 375.7,73.1 376.1,73 376.5,72.9 376.8,72.8 377.2,72.8 377.6,72.9 378,73 378.4,73.1 378.7,73.3" fill="#6abe83" stroke="#6abe83"/><polygon points="229.9,112.8 229.5,112.7 229.2,112.8 228.8,113.1 228.5,113.6 228.1,114.4 227.8,115.3 227.4,116.5 227.1,117.8 376,25.6 376.3,24.3 376.7,23.1 377,22.2 377.3,21.4 377.7,20.9 378,20.6 378.4,20.5 378.7,20.6" fill="#fcf80c" stroke="#fcf80c"/><polygon points="232.6,121 232.3,119.2 231.9,117.7 231.6,116.4 231.2,115.2 230.9,114.3 230.5,113.6 230.2,113.1 229.9,112.8 378.7,20.6 379.1,20.9 379.4,21.4 379.8,22.1 380.1,23 380.5,24.2 380.8,25.5 381.2,27 381.5,28.8" fill="#fcf80c" stroke="#fcf80c"/><polygon points="236.3,175.8 235.9,174.9 235.5,174 235.1,173.2 234.8,172.4 234.4,171.6 234,170.8 233.6,170.1 233.3,169.4 232.9,168.8 232.5,168.2 232.1,167.7 231.7,167.2 231.4,166.8 231,166.4 230.6,166 230.2,165.8 229.9,165.5 378.7,73.3 379.1,73.6 379.5,73.8 379.9,74.2 380.2,74.6 380.6,75 381,75.5 381.4,76 381.8,76.6 382.1,77.2 382.5,77.9 382.9,78.6 383.3,79.4 383.6,80.2 384,81 384.4,81.8 384.8,82.7 385.2,83.6" fill="#6abe83" stroke="#6abe83"/><polygon points="233.8,128.1 233.4,125.5 233,123.1 232.6,121 381.5,28.8 381.9,30.9 382.3,33.3 382.7,35.9" fill="#f8ee14" stroke="#f8ee14"/><polygon points="234.7,135.5 234.4,132.9 234.1,130.4 233.8,128.1 382.7,35.9 383,38.2 383.3,40.7 383.6,43.3" fill="#fbd02c" stroke="#fbd02c"/><polygon points="235.5,142.5 235.3,140.1 235,137.7 234.7,135.5 383.6,43.3 383.9,45.5 384.2,47.9 384.4,50.3" fill="#fdbe3d" stroke="#fdbe3d"/><polygon points="236.3,149.5 235.9,146 235.5,142.5 384.4,50.3 384.8,53.8 385.2,57.3" fill="#f2b84e" stroke="#f2b84e"/><polygon points="237,156.6 236.6,153 236.3,149.5 385.2,57.3 385.5,60.8 385.9,64.4" fill="#e2b957" stroke="#e2b957"/><polygon points="237.6,163.6 237.3,160.1 237,156.6 385.9,64.4 386.2,67.9 386.5,71.4" fill="#b6be64" stroke="#b6be64"/><polygon points="239.5,184.2 239.1,183.3 238.8,182.3 238.4,181.3 238.1,180.4 237.7,179.4 237.3,178.5 237,177.6 236.6,176.7 236.3,175.8 385.2,83.6 385.5,84.5 385.9,85.4 386.2,86.3 386.6,87.2 386.9,88.2 387.3,89.1 387.6,90.1 388,91.1 388.4,92" fill="#44bb97" stroke="#44bb97"/><polygon points="238.2,170.3 237.9,166.9 237.6,163.6 386.5,71.4 386.8,74.7 387.1,78.1" fill="#86c074" stroke="#86c074"/><polygon points="238.9,177.3 238.6,173.8 238.2,170.3 387.1,78.1 387.4,81.6 387.7,85.1" fill="#5abe88" stroke="#5abe88"/><polygon points="239.5,184.2 239.2,180.7 238.9,177.3 387.7,85.1 388,88.5 388.4,92" fill="#36b99c" stroke="#36b99c"/><polygon points="240.1,191.2 239.8,187.7 239.5,184.2 388.4,92 388.7,95.5 389,99" fill="#24b5aa" stroke="#24b5aa"/><polygon points="240.7,198.1 240.4,194.7 240.1,191.2 389,99 389.3,102.5 389.6,105.9" fill="#0dadbb" stroke="#0dadbb"/><polygon points="241.3,204.9 241,201.5 240.7,198.1 389.6,105.9 389.9,109.3 390.2,112.7" fill="#06a4c9" stroke="#06a4c9"/><polygon points="242.7,192.6 242.3,191.8 242,190.9 241.6,189.9 241.3,189 240.9,188.1 240.5,187.1 240.2,186.2 239.8,185.2 239.5,184.2 388.4,92 388.7,93 389.1,94 389.4,94.9 389.8,95.9 390.1,96.8 390.5,97.7 390.8,98.7 391.2,99.6 391.6,100.4" fill="#24b5aa" stroke="#24b5aa"/><polygon points="242,211.9 241.7,208.4 241.3,204.9 390.2,112.7 390.5,116.2 390.9,119.7" fill="#0998d1" stroke="#0998d1"/><polygon points="242.7,218.9 242.3,215.4 242,211.9 390.9,119.7 391.2,123.2 391.6,126.7" fill="#1487d3" stroke="#1487d3"/><polygon points="243.4,225.9 243,222.5 242.7,218.9 391.6,126.7 391.9,130.3 392.3,133.7" fill="#117ada" stroke="#117ada"/><polygon points="244.2,233 243.9,230.7 243.7,228.4 243.4,225.9 392.3,133.7 392.6,136.2 392.8,138.5 393.1,140.8" fill="#046de0" stroke="#046de0"/><polygon points="245.2,240.4 244.9,238 244.5,235.6 244.2,233 393.1,140.8 393.4,143.4 393.7,145.8 394.1,148.2" fill="#1558da" stroke="#1558da"/><polygon points="246.3,247.5 245.9,245.3 245.6,243 245.2,240.4 394.1,148.2 394.4,150.8 394.8,153.1 395.2,155.3" fill="#343fb1" stroke="#343fb1"/><polygon points="249.1,202.9 248.7,202.7 248.3,202.4 248,202.1 247.6,201.7 247.2,201.2 246.8,200.7 246.5,200.2 246.1,199.6 245.7,199 245.3,198.3 244.9,197.6 244.6,196.9 244.2,196.1 243.8,195.3 243.4,194.4 243,193.5 242.7,192.6 391.6,100.4 391.9,101.3 392.3,102.2 392.7,103.1 393.1,103.9 393.4,104.7 393.8,105.4 394.2,106.1 394.6,106.8 395,107.4 395.3,108 395.7,108.5 396.1,109 396.5,109.5 396.8,109.9 397.2,110.2 397.6,110.5 398,110.7" fill="#0dadbb" stroke="#0dadbb"/><polygon points="249.1,255.7 248.8,255.4 248.4,254.9 248.1,254.2 247.7,253.2 247.4,252.1 247,250.7 246.7,249.2 246.3,247.5 395.2,155.3 395.6,157 395.9,158.5 396.2,159.9 396.6,161 396.9,162 397.3,162.7 397.6,163.2 398,163.5" fill="#352a87" stroke="#352a87"/><polygon points="251.9,250.7 251.5,252 251.2,253.1 250.8,254.1 250.5,254.8 250.1,255.4 249.8,255.7 249.4,255.8 249.1,255.7 398,163.5 398.3,163.6 398.7,163.5 399,163.2 399.4,162.6 399.7,161.9 400.1,160.9 400.4,159.8 400.8,158.5" fill="#352a87" stroke="#352a87"/><polygon points="255.5,200 255.2,200.5 254.8,200.9 254.4,201.4 254,201.7 253.6,202.1 253.3,202.4 252.9,202.7 252.5,202.9 252.1,203.1 251.7,203.2 251.4,203.3 251,203.4 250.6,203.4 250.2,203.4 249.9,203.3 249.5,203.1 249.1,202.9 398,110.7 398.4,110.9 398.7,111.1 399.1,111.2 399.5,111.2 399.9,111.2 400.2,111.1 400.6,111 401,110.9 401.4,110.7 401.8,110.5 402.1,110.2 402.5,109.9 402.9,109.5 403.3,109.2 403.7,108.7 404,108.3 404.4,107.8" fill="#0dadbb" stroke="#0dadbb"/><polygon points="253,244.9 252.6,247 252.3,249 251.9,250.7 400.8,158.5 401.1,156.8 401.5,154.8 401.9,152.7" fill="#343fb1" stroke="#343fb1"/><polygon points="254,238.6 253.7,240.8 253.3,242.9 253,244.9 401.9,152.7 402.2,150.7 402.5,148.6 402.9,146.4" fill="#1558da" stroke="#1558da"/><polygon points="254.8,232.5 254.5,234.6 254.3,236.6 254,238.6 402.9,146.4 403.1,144.4 403.4,142.4 403.7,140.3" fill="#046de0" stroke="#046de0"/><polygon points="255.5,226.3 255.2,229.4 254.8,232.5 403.7,140.3 404,137.2 404.4,134.1" fill="#117ada" stroke="#117ada"/><polygon points="256.2,220 255.9,223.2 255.5,226.3 404.4,134.1 404.8,131 405.1,127.8" fill="#1487d3" stroke="#1487d3"/><polygon points="256.9,213.8 256.5,217 256.2,220 405.1,127.8 405.4,124.8 405.8,121.6" fill="#0998d1" stroke="#0998d1"/><polygon points="258.7,195.3 258.4,195.8 258,196.4 257.7,196.9 257.3,197.5 256.9,198 256.6,198.5 256.2,199.1 255.9,199.5 255.5,200 404.4,107.8 404.8,107.3 405.1,106.9 405.5,106.3 405.8,105.8 406.2,105.3 406.5,104.7 406.9,104.2 407.2,103.6 407.6,103.1" fill="#24b5aa" stroke="#24b5aa"/><polygon points="257.5,207.7 257.2,210.8 256.9,213.8 405.8,121.6 406.1,118.6 406.4,115.5" fill="#06a4c9" stroke="#06a4c9"/><polygon points="258.1,201.5 257.8,204.7 257.5,207.7 406.4,115.5 406.7,112.5 407,109.3" fill="#0dadbb" stroke="#0dadbb"/><polygon points="258.7,195.3 258.4,198.4 258.1,201.5 407,109.3 407.3,106.2 407.6,103.1" fill="#24b5aa" stroke="#24b5aa"/><polygon points="259.3,189 259,192.1 258.7,195.3 407.6,103.1 407.9,99.9 408.2,96.8" fill="#36b99c" stroke="#36b99c"/><polygon points="260,182.8 259.6,185.9 259.3,189 408.2,96.8 408.5,93.7 408.8,90.6" fill="#5abe88" stroke="#5abe88"/><polygon points="260.6,176.7 260.3,179.8 260,182.8 408.8,90.6 409.1,87.6 409.5,84.5" fill="#86c074" stroke="#86c074"/><polygon points="261.9,190.5 261.6,191 261.2,191.5 260.9,192 260.5,192.5 260.1,193.1 259.8,193.6 259.4,194.2 259.1,194.7 258.7,195.3 407.6,103.1 408,102.5 408.3,102 408.7,101.4 409,100.9 409.4,100.3 409.7,99.8 410.1,99.3 410.4,98.8 410.8,98.3" fill="#44bb97" stroke="#44bb97"/><polygon points="261.2,170.5 260.9,173.6 260.6,176.7 409.5,84.5 409.8,81.4 410.1,78.3" fill="#b6be64" stroke="#b6be64"/><polygon points="261.9,164.3 261.6,167.3 261.2,170.5 410.1,78.3 410.5,75.1 410.8,72.1" fill="#e2b957" stroke="#e2b957"/><polygon points="262.7,158.1 262.3,161.1 261.9,164.3 410.8,72.1 411.2,68.9 411.5,65.9" fill="#f2b84e" stroke="#f2b84e"/><polygon points="263.5,151.9 263.2,153.9 262.9,156 262.7,158.1 411.5,65.9 411.8,63.8 412.1,61.7 412.3,59.7" fill="#fdbe3d" stroke="#fdbe3d"/><polygon points="264.4,145.7 264.1,147.6 263.8,149.7 263.5,151.9 412.3,59.7 412.7,57.5 413,55.4 413.3,53.5" fill="#fbd02c" stroke="#fbd02c"/><polygon points="265.6,139.9 265.2,141.6 264.8,143.5 264.4,145.7 413.3,53.5 413.7,51.3 414.1,49.4 414.5,47.7" fill="#f8ee14" stroke="#f8ee14"/><polygon points="268.4,187.6 268,187.4 267.6,187.3 267.2,187.2 266.8,187.1 266.5,187.1 266.1,187.2 265.7,187.3 265.3,187.4 264.9,187.6 264.6,187.9 264.2,188.1 263.8,188.5 263.4,188.8 263.1,189.2 262.7,189.6 262.3,190.1 261.9,190.5 410.8,98.3 411.2,97.9 411.6,97.4 411.9,97 412.3,96.6 412.7,96.3 413.1,95.9 413.4,95.7 413.8,95.4 414.2,95.2 414.6,95.1 415,95 415.3,94.9 415.7,94.9 416.1,95 416.5,95.1 416.9,95.2 417.2,95.4" fill="#6abe83" stroke="#6abe83"/><polygon points="268.4,134.9 268,134.8 267.7,134.9 267.3,135.2 267,135.7 266.6,136.5 266.3,137.4 265.9,138.6 265.6,139.9 414.5,47.7 414.8,46.4 415.2,45.2 415.5,44.3 415.8,43.5 416.2,43 416.5,42.7 416.9,42.6 417.2,42.7" fill="#fcf80c" stroke="#fcf80c"/><polygon points="271.1,143.1 270.8,141.3 270.4,139.8 270.1,138.5 269.7,137.3 269.4,136.4 269,135.7 268.7,135.2 268.4,134.9 417.2,42.7 417.6,43 417.9,43.5 418.3,44.2 418.6,45.1 419,46.3 419.3,47.6 419.7,49.1 420,50.9" fill="#fcf80c" stroke="#fcf80c"/><polygon points="274.8,197.9 274.4,197 274,196.1 273.6,195.3 273.3,194.5 272.9,193.7 272.5,192.9 272.1,192.2 271.8,191.5 271.4,190.9 271,190.3 270.6,189.8 270.2,189.3 269.9,188.9 269.5,188.5 269.1,188.1 268.7,187.9 268.4,187.6 417.2,95.4 417.6,95.7 418,95.9 418.4,96.3 418.7,96.7 419.1,97.1 419.5,97.6 419.9,98.1 420.3,98.7 420.6,99.3 421,100 421.4,100.7 421.8,101.5 422.1,102.3 422.5,103.1 422.9,103.9 423.3,104.8 423.7,105.7" fill="#6abe83" stroke="#6abe83"/><polygon points="272.3,150.2 271.9,147.6 271.5,145.2 271.1,143.1 420,50.9 420.4,53 420.8,55.4 421.2,58" fill="#f8ee14" stroke="#f8ee14"/><polygon points="273.2,157.6 272.9,155 272.6,152.5 272.3,150.2 421.2,58 421.5,60.3 421.8,62.8 422.1,65.4" fill="#fbd02c" stroke="#fbd02c"/><polygon points="274,164.6 273.8,162.2 273.5,159.8 273.2,157.6 422.1,65.4 422.4,67.6 422.7,70 422.9,72.4" fill="#fdbe3d" stroke="#fdbe3d"/><polygon points="274.8,171.6 274.4,168.1 274,164.6 422.9,72.4 423.3,75.9 423.7,79.4" fill="#f2b84e" stroke="#f2b84e"/><polygon points="275.5,178.7 275.1,175.1 274.8,171.6 423.7,79.4 424,82.9 424.4,86.5" fill="#e2b957" stroke="#e2b957"/><polygon points="276.1,185.7 275.8,182.2 275.5,178.7 424.4,86.5 424.7,90 425,93.5" fill="#b6be64" stroke="#b6be64"/><polygon points="278,206.3 277.6,205.4 277.3,204.4 276.9,203.4 276.6,202.5 276.2,201.5 275.8,200.6 275.5,199.7 275.1,198.8 274.8,197.9 423.7,105.7 424,106.6 424.4,107.5 424.7,108.4 425.1,109.3 425.4,110.3 425.8,111.2 426.1,112.2 426.5,113.2 426.9,114.1" fill="#44bb97" stroke="#44bb97"/><polygon points="276.7,192.4 276.4,189 276.1,185.7 425,93.5 425.3,96.8 425.6,100.2" fill="#86c074" stroke="#86c074"/><polygon points="277.4,199.4 277.1,195.9 276.7,192.4 425.6,100.2 425.9,103.7 426.2,107.2" fill="#5abe88" stroke="#5abe88"/><polygon points="278,206.3 277.7,202.8 277.4,199.4 426.2,107.2 426.5,110.6 426.9,114.1" fill="#36b99c" stroke="#36b99c"/><polygon points="278.6,213.3 278.3,209.8 278,206.3 426.9,114.1 427.2,117.6 427.5,121.1" fill="#24b5aa" stroke="#24b5aa"/><polygon points="279.2,220.2 278.9,216.8 278.6,213.3 427.5,121.1 427.8,124.6 428.1,128" fill="#0dadbb" stroke="#0dadbb"/><polygon points="279.8,227 279.5,223.6 279.2,220.2 428.1,128 428.4,131.4 428.7,134.8" fill="#06a4c9" stroke="#06a4c9"/><polygon points="281.2,214.7 280.8,213.9 280.5,213 280.1,212 279.8,211.1 279.4,210.2 279,209.2 278.7,208.3 278.3,207.3 278,206.3 426.9,114.1 427.2,115.1 427.6,116.1 427.9,117 428.3,118 428.6,118.9 429,119.8 429.3,120.8 429.7,121.7 430.1,122.5" fill="#24b5aa" stroke="#24b5aa"/><polygon points="280.5,234 280.2,230.5 279.8,227 428.7,134.8 429,138.3 429.4,141.8" fill="#0998d1" stroke="#0998d1"/><polygon points="281.2,241 280.8,237.5 280.5,234 429.4,141.8 429.7,145.3 430.1,148.8" fill="#1487d3" stroke="#1487d3"/><polygon points="281.9,248 281.5,244.6 281.2,241 430.1,148.8 430.4,152.4 430.8,155.8" fill="#117ada" stroke="#117ada"/><polygon points="282.7,255.1 282.4,252.8 282.2,250.5 281.9,248 430.8,155.8 431.1,158.3 431.3,160.6 431.6,162.9" fill="#046de0" stroke="#046de0"/><polygon points="283.7,262.5 283.4,260.1 283,257.7 282.7,255.1 431.6,162.9 431.9,165.5 432.2,167.9 432.6,170.3" fill="#1558da" stroke="#1558da"/><polygon points="284.8,269.6 284.4,267.4 284.1,265.1 283.7,262.5 432.6,170.3 432.9,172.9 433.3,175.2 433.7,177.4" fill="#343fb1" stroke="#343fb1"/><polygon points="287.6,225 287.2,224.8 286.8,224.5 286.5,224.2 286.1,223.8 285.7,223.3 285.3,222.8 285,222.3 284.6,221.7 284.2,221.1 283.8,220.4 283.4,219.7 283.1,219 282.7,218.2 282.3,217.4 281.9,216.5 281.5,215.6 281.2,214.7 430.1,122.5 430.4,123.4 430.8,124.3 431.2,125.2 431.6,126 431.9,126.8 432.3,127.5 432.7,128.2 433.1,128.9 433.5,129.5 433.8,130.1 434.2,130.6 434.6,131.1 435,131.6 435.3,132 435.7,132.3 436.1,132.6 436.5,132.8" fill="#0dadbb" stroke="#0dadbb"/><polygon points="287.6,277.8 287.3,277.5 286.9,277 286.6,276.3 286.2,275.3 285.9,274.2 285.5,272.8 285.2,271.3 284.8,269.6 433.7,177.4 434.1,179.1 434.4,180.6 434.7,182 435.1,183.1 435.4,184.1 435.8,184.8 436.1,185.3 436.5,185.6" fill="#352a87" stroke="#352a87"/><polygon points="290.4,272.8 290,274.1 289.7,275.2 289.3,276.2 289,276.9 288.6,277.5 288.3,277.8 287.9,277.9 287.6,277.8 436.5,185.6 436.8,185.7 437.2,185.6 437.5,185.3 437.9,184.7 438.2,184 438.6,183 438.9,181.9 439.3,180.6" fill="#352a87" stroke="#352a87"/><polygon points="294,222.1 293.7,222.6 293.3,223 292.9,223.5 292.5,223.8 292.1,224.2 291.8,224.5 291.4,224.8 291,225 290.6,225.2 290.2,225.3 289.9,225.4 289.5,225.5 289.1,225.5 288.7,225.5 288.4,225.4 288,225.2 287.6,225 436.5,132.8 436.9,133 437.2,133.2 437.6,133.3 438,133.3 438.4,133.3 438.7,133.2 439.1,133.1 439.5,133 439.9,132.8 440.3,132.6 440.6,132.3 441,132 441.4,131.6 441.8,131.3 442.2,130.8 442.5,130.4 442.9,129.9" fill="#0dadbb" stroke="#0dadbb"/><polygon points="291.5,267 291.1,269.1 290.8,271.1 290.4,272.8 439.3,180.6 439.6,178.9 440,176.9 440.4,174.8" fill="#343fb1" stroke="#343fb1"/><polygon points="292.5,260.7 292.2,262.9 291.8,265 291.5,267 440.4,174.8 440.7,172.8 441,170.7 441.4,168.5" fill="#1558da" stroke="#1558da"/><polygon points="293.3,254.6 293,256.7 292.8,258.7 292.5,260.7 441.4,168.5 441.6,166.5 441.9,164.5 442.2,162.4" fill="#046de0" stroke="#046de0"/><polygon points="294,248.4 293.7,251.5 293.3,254.6 442.2,162.4 442.5,159.3 442.9,156.2" fill="#117ada" stroke="#117ada"/><polygon points="294.7,242.1 294.4,245.3 294,248.4 442.9,156.2 443.3,153.1 443.6,149.9" fill="#1487d3" stroke="#1487d3"/><polygon points="295.4,235.9 295,239.1 294.7,242.1 443.6,149.9 443.9,146.9 444.3,143.7" fill="#0998d1" stroke="#0998d1"/><polygon points="297.2,217.4 296.9,217.9 296.5,218.5 296.2,219 295.8,219.6 295.4,220.1 295.1,220.6 294.7,221.2 294.4,221.6 294,222.1 442.9,129.9 443.3,129.4 443.6,129 444,128.4 444.3,127.9 444.7,127.4 445,126.8 445.4,126.3 445.7,125.7 446.1,125.2" fill="#24b5aa" stroke="#24b5aa"/><polygon points="296,229.8 295.7,232.9 295.4,235.9 444.3,143.7 444.6,140.7 444.9,137.6" fill="#06a4c9" stroke="#06a4c9"/><polygon points="296.6,223.6 296.3,226.8 296,229.8 444.9,137.6 445.2,134.6 445.5,131.4" fill="#0dadbb" stroke="#0dadbb"/><polygon points="297.2,217.4 296.9,220.5 296.6,223.6 445.5,131.4 445.8,128.3 446.1,125.2" fill="#24b5aa" stroke="#24b5aa"/><polygon points="297.8,211.1 297.5,214.2 297.2,217.4 446.1,125.2 446.4,122 446.7,118.9" fill="#36b99c" stroke="#36b99c"/><polygon points="298.5,204.9 298.1,208 297.8,211.1 446.7,118.9 447,115.8 447.3,112.7" fill="#5abe88" stroke="#5abe88"/><polygon points="299.1,198.8 298.8,201.9 298.5,204.9 447.3,112.7 447.6,109.7 448,106.6" fill="#86c074" stroke="#86c074"/><polygon points="300.4,212.6 300.1,213.1 299.7,213.6 299.4,214.1 299,214.6 298.6,215.2 298.3,215.7 297.9,216.3 297.6,216.8 297.2,217.4 446.1,125.2 446.5,124.6 446.8,124.1 447.2,123.5 447.5,123 447.9,122.4 448.2,121.9 448.6,121.4 448.9,120.9 449.3,120.4" fill="#44bb97" stroke="#44bb97"/><polygon points="299.7,192.6 299.4,195.7 299.1,198.8 448,106.6 448.3,103.5 448.6,100.4" fill="#b6be64" stroke="#b6be64"/><polygon points="300.4,186.4 300.1,189.4 299.7,192.6 448.6,100.4 449,97.2 449.3,94.2" fill="#e2b957" stroke="#e2b957"/><polygon points="301.2,180.2 300.8,183.2 300.4,186.4 449.3,94.2 449.7,91 450,88" fill="#f2b84e" stroke="#f2b84e"/><polygon points="302,174 301.7,176 301.4,178.1 301.2,180.2 450,88 450.3,85.9 450.6,83.8 450.8,81.8" fill="#fdbe3d" stroke="#fdbe3d"/><polygon points="302.9,167.8 302.6,169.7 302.3,171.8 302,174 450.8,81.8 451.2,79.6 451.5,77.5 451.8,75.6" fill="#fbd02c" stroke="#fbd02c"/><polygon points="304.1,162 303.7,163.7 303.3,165.6 302.9,167.8 451.8,75.6 452.2,73.4 452.6,71.5 453,69.8" fill="#f8ee14" stroke="#f8ee14"/><polygon points="306.9,209.7 306.5,209.5 306.1,209.4 305.7,209.3 305.3,209.2 305,209.2 304.6,209.3 304.2,209.4 303.8,209.5 303.4,209.7 303.1,210 302.7,210.2 302.3,210.6 301.9,210.9 301.6,211.3 301.2,211.7 300.8,212.2 300.4,212.6 449.3,120.4 449.7,120 450.1,119.5 450.4,119.1 450.8,118.7 451.2,118.4 451.6,118 451.9,117.8 452.3,117.5 452.7,117.3 453.1,117.2 453.5,117.1 453.8,117 454.2,117 454.6,117.1 455,117.2 455.4,117.3 455.7,117.5" fill="#6abe83" stroke="#6abe83"/><polygon points="306.9,157 306.5,156.9 306.2,157 305.8,157.3 305.5,157.8 305.1,158.6 304.8,159.5 304.4,160.7 304.1,162 453,69.8 453.3,68.5 453.7,67.3 454,66.4 454.3,65.6 454.7,65.1 455,64.8 455.4,64.7 455.7,64.8" fill="#fcf80c" stroke="#fcf80c"/><polygon points="309.6,165.2 309.3,163.4 308.9,161.9 308.6,160.6 308.2,159.4 307.9,158.5 307.5,157.8 307.2,157.3 306.9,157 455.7,64.8 456.1,65.1 456.4,65.6 456.8,66.3 457.1,67.2 457.5,68.4 457.8,69.7 458.2,71.2 458.5,73" fill="#fcf80c" stroke="#fcf80c"/><polygon points="313.3,220 312.9,219.1 312.5,218.2 312.1,217.4 311.8,216.6 311.4,215.8 311,215 310.6,214.3 310.3,213.6 309.9,213 309.5,212.4 309.1,211.9 308.7,211.4 308.4,211 308,210.6 307.6,210.2 307.2,210 306.9,209.7 455.7,117.5 456.1,117.8 456.5,118 456.9,118.4 457.2,118.8 457.6,119.2 458,119.7 458.4,120.2 458.8,120.8 459.1,121.4 459.5,122.1 459.9,122.8 460.3,123.6 460.6,124.4 461,125.2 461.4,126 461.8,126.9 462.2,127.8" fill="#6abe83" stroke="#6abe83"/><polygon points="310.8,172.3 310.4,169.7 310,167.3 309.6,165.2 458.5,73 458.9,75.1 459.3,77.5 459.7,80.1" fill="#f8ee14" stroke="#f8ee14"/><polygon points="311.7,179.7 311.4,177.1 311.1,174.6 310.8,172.3 459.7,80.1 460,82.4 460.3,84.9 460.6,87.5" fill="#fbd02c" stroke="#fbd02c"/><polygon points="312.5,186.7 312.3,184.3 312,181.9 311.7,179.7 460.6,87.5 460.9,89.7 461.2,92.1 461.4,94.5" fill="#fdbe3d" stroke="#fdbe3d"/><polygon points="313.3,193.7 312.9,190.2 312.5,186.7 461.4,94.5 461.8,98 462.2,101.5" fill="#f2b84e" stroke="#f2b84e"/><polygon points="314,200.8 313.6,197.2 313.3,193.7 462.2,101.5 462.5,105 462.9,108.6" fill="#e2b957" stroke="#e2b957"/><polygon points="314.6,207.8 314.3,204.3 314,200.8 462.9,108.6 463.2,112.1 463.5,115.6" fill="#b6be64" stroke="#b6be64"/><polygon points="316.5,228.4 316.1,227.5 315.8,226.5 315.4,225.5 315.1,224.6 314.7,223.6 314.3,222.7 314,221.8 313.6,220.9 313.3,220 462.2,127.8 462.5,128.7 462.9,129.6 463.2,130.5 463.6,131.4 463.9,132.4 464.3,133.3 464.6,134.3 465,135.3 465.4,136.2" fill="#44bb97" stroke="#44bb97"/><polygon points="315.2,214.5 314.9,211.1 314.6,207.8 463.5,115.6 463.8,118.9 464.1,122.3" fill="#86c074" stroke="#86c074"/><polygon points="315.9,221.5 315.6,218 315.2,214.5 464.1,122.3 464.4,125.8 464.7,129.3" fill="#5abe88" stroke="#5abe88"/><polygon points="316.5,228.4 316.2,224.9 315.9,221.5 464.7,129.3 465,132.7 465.4,136.2" fill="#36b99c" stroke="#36b99c"/><polygon points="317.1,235.4 316.8,231.9 316.5,228.4 465.4,136.2 465.7,139.7 466,143.2" fill="#24b5aa" stroke="#24b5aa"/><polygon points="317.7,242.3 317.4,238.9 317.1,235.4 466,143.2 466.3,146.7 466.6,150.1" fill="#0dadbb" stroke="#0dadbb"/><polygon points="318.3,249.1 318,245.7 317.7,242.3 466.6,150.1 466.9,153.5 467.2,156.9" fill="#06a4c9" stroke="#06a4c9"/><polygon points="319.7,236.8 319.3,236 319,235.1 318.6,234.1 318.3,233.2 317.9,232.3 317.5,231.3 317.2,230.4 316.8,229.4 316.5,228.4 465.4,136.2 465.7,137.2 466.1,138.2 466.4,139.1 466.8,140.1 467.1,141 467.5,141.9 467.8,142.9 468.2,143.8 468.6,144.6" fill="#24b5aa" stroke="#24b5aa"/><polygon points="319,256.1 318.7,252.6 318.3,249.1 467.2,156.9 467.5,160.4 467.9,163.9" fill="#0998d1" stroke="#0998d1"/><polygon points="319.7,263.1 319.3,259.6 319,256.1 467.9,163.9 468.2,167.4 468.6,170.9" fill="#1487d3" stroke="#1487d3"/><polygon points="320.4,270.1 320,266.7 319.7,263.1 468.6,170.9 468.9,174.5 469.3,177.9" fill="#117ada" stroke="#117ada"/><polygon points="321.2,277.2 320.9,274.9 320.7,272.6 320.4,270.1 469.3,177.9 469.6,180.4 469.8,182.7 470.1,185" fill="#046de0" stroke="#046de0"/><polygon points="322.2,284.6 321.9,282.2 321.5,279.8 321.2,277.2 470.1,185 470.4,187.6 470.7,190 471.1,192.4" fill="#1558da" stroke="#1558da"/><polygon points="323.3,291.7 322.9,289.5 322.6,287.2 322.2,284.6 471.1,192.4 471.4,195 471.8,197.3 472.2,199.5" fill="#343fb1" stroke="#343fb1"/><polygon points="326.1,247.1 325.7,246.9 325.3,246.6 325,246.3 324.6,245.9 324.2,245.4 323.8,244.9 323.5,244.4 323.1,243.8 322.7,243.2 322.3,242.5 321.9,241.8 321.6,241.1 321.2,240.3 320.8,239.5 320.4,238.6 320,237.7 319.7,236.8 468.6,144.6 468.9,145.5 469.3,146.4 469.7,147.3 470.1,148.1 470.4,148.9 470.8,149.6 471.2,150.3 471.6,151 472,151.6 472.3,152.2 472.7,152.7 473.1,153.2 473.5,153.7 473.8,154.1 474.2,154.4 474.6,154.7 475,154.9" fill="#0dadbb" stroke="#0dadbb"/><polygon points="326.1,299.9 325.8,299.6 325.4,299.1 325.1,298.4 324.7,297.4 324.4,296.3 324,294.9 323.7,293.4 323.3,291.7 472.2,199.5 472.6,201.2 472.9,202.7 473.2,204.1 473.6,205.2 473.9,206.2 474.3,206.9 474.6,207.4 475,207.7" fill="#352a87" stroke="#352a87"/><polygon points="328.9,294.9 328.5,296.2 328.2,297.3 327.8,298.3 327.5,299 327.1,299.6 326.8,299.9 326.4,300 326.1,299.9 475,207.7 475.3,207.8 475.7,207.7 476,207.4 476.4,206.8 476.7,206.1 477.1,205.1 477.4,204 477.8,202.7" fill="#352a87" stroke="#352a87"/><polygon points="332.5,244.2 332.2,244.7 331.8,245.1 331.4,245.6 331,245.9 330.6,246.3 330.3,246.6 329.9,246.9 329.5,247.1 329.1,247.3 328.7,247.4 328.4,247.5 328,247.6 327.6,247.6 327.2,247.6 326.9,247.5 326.5,247.3 326.1,247.1 475,154.9 475.4,155.1 475.7,155.3 476.1,155.4 476.5,155.4 476.9,155.4 477.2,155.3 477.6,155.2 478,155.1 478.4,154.9 478.8,154.7 479.1,154.4 479.5,154.1 479.9,153.7 480.3,153.4 480.7,152.9 481,152.5 481.4,152" fill="#0dadbb" stroke="#0dadbb"/><polygon points="330,289.1 329.6,291.2 329.3,293.2 328.9,294.9 477.8,202.7 478.1,201 478.5,199 478.9,196.9" fill="#343fb1" stroke="#343fb1"/><polygon points="331,282.8 330.7,285 330.3,287.1 330,289.1 478.9,196.9 479.2,194.9 479.5,192.8 479.9,190.6" fill="#1558da" stroke="#1558da"/><polygon points="331.8,276.7 331.5,278.8 331.3,280.8 331,282.8 479.9,190.6 480.1,188.6 480.4,186.6 480.7,184.5" fill="#046de0" stroke="#046de0"/><polygon points="332.5,270.5 332.2,273.6 331.8,276.7 480.7,184.5 481,181.4 481.4,178.3" fill="#117ada" stroke="#117ada"/><polygon points="333.2,264.2 332.9,267.4 332.5,270.5 481.4,178.3 481.8,175.2 482.1,172" fill="#1487d3" stroke="#1487d3"/><polygon points="333.9,258 333.5,261.2 333.2,264.2 482.1,172 482.4,169 482.8,165.8" fill="#0998d1" stroke="#0998d1"/><polygon points="335.7,239.5 335.4,240 335,240.6 334.7,241.1 334.3,241.7 333.9,242.2 333.6,242.7 333.2,243.3 332.9,243.7 332.5,244.2 481.4,152 481.8,151.5 482.1,151.1 482.5,150.5 482.8,150 483.2,149.5 483.5,148.9 483.9,148.4 484.2,147.8 484.6,147.3" fill="#24b5aa" stroke="#24b5aa"/><polygon points="334.5,251.9 334.2,255 333.9,258 482.8,165.8 483.1,162.8 483.4,159.7" fill="#06a4c9" stroke="#06a4c9"/><polygon points="335.1,245.7 334.8,248.9 334.5,251.9 483.4,159.7 483.7,156.7 484,153.5" fill="#0dadbb" stroke="#0dadbb"/><polygon points="335.7,239.5 335.4,242.6 335.1,245.7 484,153.5 484.3,150.4 484.6,147.3" fill="#24b5aa" stroke="#24b5aa"/><polygon points="336.3,233.2 336,236.3 335.7,239.5 484.6,147.3 484.9,144.1 485.2,141" fill="#36b99c" stroke="#36b99c"/><polygon points="337,227 336.6,230.1 336.3,233.2 485.2,141 485.5,137.9 485.8,134.8" fill="#5abe88" stroke="#5abe88"/><polygon points="337.6,220.9 337.3,224 337,227 485.8,134.8 486.1,131.8 486.5,128.7" fill="#86c074" stroke="#86c074"/><polygon points="338.9,234.7 338.6,235.2 338.2,235.7 337.9,236.2 337.5,236.7 337.1,237.3 336.8,237.8 336.4,238.4 336.1,238.9 335.7,239.5 484.6,147.3 485,146.7 485.3,146.2 485.7,145.6 486,145.1 486.4,144.5 486.7,144 487.1,143.5 487.4,143 487.8,142.5" fill="#44bb97" stroke="#44bb97"/><polygon points="338.2,214.7 337.9,217.8 337.6,220.9 486.5,128.7 486.8,125.6 487.1,122.5" fill="#b6be64" stroke="#b6be64"/><polygon points="338.9,208.5 338.6,211.5 338.2,214.7 487.1,122.5 487.5,119.3 487.8,116.3" fill="#e2b957" stroke="#e2b957"/><polygon points="339.7,202.3 339.3,205.3 338.9,208.5 487.8,116.3 488.2,113.1 488.5,110.1" fill="#f2b84e" stroke="#f2b84e"/><polygon points="340.5,196.1 340.2,198.1 339.9,200.2 339.7,202.3 488.5,110.1 488.8,108 489.1,105.9 489.3,103.9" fill="#fdbe3d" stroke="#fdbe3d"/><polygon points="341.4,189.9 341.1,191.8 340.8,193.9 340.5,196.1 489.3,103.9 489.7,101.7 490,99.6 490.3,97.7" fill="#fbd02c" stroke="#fbd02c"/><polygon points="342.6,184.1 342.2,185.8 341.8,187.7 341.4,189.9 490.3,97.7 490.7,95.5 491.1,93.6 491.5,91.9" fill="#f8ee14" stroke="#f8ee14"/><polygon points="345.4,231.8 345,231.6 344.6,231.5 344.2,231.4 343.8,231.3 343.5,231.3 343.1,231.4 342.7,231.5 342.3,231.6 341.9,231.8 341.6,232.1 341.2,232.3 340.8,232.7 340.4,233 340.1,233.4 339.7,233.8 339.3,234.3 338.9,234.7 487.8,142.5 488.2,142.1 488.6,141.6 488.9,141.2 489.3,140.8 489.7,140.5 490.1,140.1 490.4,139.9 490.8,139.6 491.2,139.4 491.6,139.3 492,139.2 492.3,139.1 492.7,139.1 493.1,139.2 493.5,139.3 493.9,139.4 494.2,139.6" fill="#6abe83" stroke="#6abe83"/><polygon points="345.4,179.1 345,179 344.7,179.1 344.3,179.4 344,179.9 343.6,180.7 343.3,181.6 342.9,182.8 342.6,184.1 491.5,91.9 491.8,90.6 492.2,89.4 492.5,88.5 492.8,87.7 493.2,87.2 493.5,86.9 493.9,86.8 494.2,86.9" fill="#fcf80c" stroke="#fcf80c"/><polygon points="348.1,187.3 347.8,185.5 347.4,184 347.1,182.7 346.7,181.5 346.4,180.6 346,179.9 345.7,179.4 345.4,179.1 494.2,86.9 494.6,87.2 494.9,87.7 495.3,88.4 495.6,89.3 496,90.5 496.3,91.8 496.7,93.3 497,95.1" fill="#fcf80c" stroke="#fcf80c"/><polygon points="351.8,242.1 351.4,241.2 351,240.3 350.6,239.5 350.3,238.7 349.9,237.9 349.5,237.1 349.1,236.4 348.8,235.7 348.4,235.1 348,234.5 347.6,234 347.2,233.5 346.9,233.1 346.5,232.7 346.1,232.3 345.7,232.1 345.4,231.8 494.2,139.6 494.6,139.9 495,140.1 495.4,140.5 495.7,140.9 496.1,141.3 496.5,141.8 496.9,142.3 497.3,142.9 497.6,143.5 498,144.2 498.4,144.9 498.8,145.7 499.1,146.5 499.5,147.3 499.9,148.1 500.3,149 500.7,149.9" fill="#6abe83" stroke="#6abe83"/><polygon points="349.3,194.4 348.9,191.8 348.5,189.4 348.1,187.3 497,95.1 497.4,97.2 497.8,99.6 498.2,102.2" fill="#f8ee14" stroke="#f8ee14"/><polygon points="350.2,201.8 349.9,199.2 349.6,196.7 349.3,194.4 498.2,102.2 498.5,104.5 498.8,107 499.1,109.6" fill="#fbd02c" stroke="#fbd02c"/><polygon points="351,208.8 350.8,206.4 350.5,204 350.2,201.8 499.1,109.6 499.4,111.8 499.7,114.2 499.9,116.6" fill="#fdbe3d" stroke="#fdbe3d"/><polygon points="351.8,215.8 351.4,212.3 351,208.8 499.9,116.6 500.3,120.1 500.7,123.6" fill="#f2b84e" stroke="#f2b84e"/><polygon points="352.5,222.9 352.1,219.3 351.8,215.8 500.7,123.6 501,127.1 501.4,130.7" fill="#e2b957" stroke="#e2b957"/><polygon points="353.1,229.9 352.8,226.4 352.5,222.9 501.4,130.7 501.7,134.2 502,137.7" fill="#b6be64" stroke="#b6be64"/><polygon points="355,250.5 354.6,249.6 354.3,248.6 353.9,247.6 353.6,246.7 353.2,245.7 352.8,244.8 352.5,243.9 352.1,243 351.8,242.1 500.7,149.9 501,150.8 501.4,151.7 501.7,152.6 502.1,153.5 502.4,154.5 502.8,155.4 503.1,156.4 503.5,157.4 503.9,158.3" fill="#44bb97" stroke="#44bb97"/><polygon points="353.7,236.6 353.4,233.2 353.1,229.9 502,137.7 502.3,141 502.6,144.4" fill="#86c074" stroke="#86c074"/><polygon points="354.4,243.6 354.1,240.1 353.7,236.6 502.6,144.4 502.9,147.9 503.2,151.4" fill="#5abe88" stroke="#5abe88"/><polygon points="355,250.5 354.7,247 354.4,243.6 503.2,151.4 503.5,154.8 503.9,158.3" fill="#36b99c" stroke="#36b99c"/><polygon points="355.6,257.5 355.3,254 355,250.5 503.9,158.3 504.2,161.8 504.5,165.3" fill="#24b5aa" stroke="#24b5aa"/><polygon points="356.2,264.4 355.9,261 355.6,257.5 504.5,165.3 504.8,168.8 505.1,172.2" fill="#0dadbb" stroke="#0dadbb"/><polygon points="356.8,271.2 356.5,267.8 356.2,264.4 505.1,172.2 505.4,175.6 505.7,179" fill="#06a4c9" stroke="#06a4c9"/><polygon points="358.2,258.9 357.8,258.1 357.5,257.2 357.1,256.2 356.8,255.3 356.4,254.4 356,253.4 355.7,252.5 355.3,251.5 355,250.5 503.9,158.3 504.2,159.3 504.6,160.3 504.9,161.2 505.3,162.2 505.6,163.1 506,164 506.3,165 506.7,165.9 507.1,166.7" fill="#24b5aa" stroke="#24b5aa"/><polygon points="357.5,278.2 357.2,274.7 356.8,271.2 505.7,179 506,182.5 506.4,186" fill="#0998d1" stroke="#0998d1"/><polygon points="358.2,285.2 357.8,281.7 357.5,278.2 506.4,186 506.7,189.5 507.1,193" fill="#1487d3" stroke="#1487d3"/><polygon points="358.9,292.2 358.5,288.8 358.2,285.2 507.1,193 507.4,196.6 507.8,200" fill="#117ada" stroke="#117ada"/><polygon points="359.7,299.3 359.4,297 359.2,294.7 358.9,292.2 507.8,200 508.1,202.5 508.3,204.8 508.6,207.1" fill="#046de0" stroke="#046de0"/><polygon points="360.7,306.7 360.4,304.3 360,301.9 359.7,299.3 508.6,207.1 508.9,209.7 509.2,212.1 509.6,214.5" fill="#1558da" stroke="#1558da"/><polygon points="361.8,313.8 361.5,312.2 361.3,310.5 361,308.6 360.7,306.7 509.6,214.5 509.8,216.4 510.1,218.3 510.4,220 510.7,221.6" fill="#343fb1" stroke="#343fb1"/><polygon points="364.6,269.2 364.2,269 363.8,268.7 363.5,268.4 363.1,268 362.7,267.5 362.3,267 362,266.5 361.6,265.9 361.2,265.3 360.8,264.6 360.4,263.9 360.1,263.2 359.7,262.4 359.3,261.6 358.9,260.7 358.5,259.8 358.2,258.9 507.1,166.7 507.4,167.6 507.8,168.5 508.2,169.4 508.6,170.2 508.9,171 509.3,171.7 509.7,172.4 510.1,173.1 510.5,173.7 510.8,174.3 511.2,174.8 511.6,175.3 512,175.8 512.3,176.2 512.7,176.5 513.1,176.8 513.5,177" fill="#0dadbb" stroke="#0dadbb"/><polygon points="364.6,322 364.3,321.7 363.9,321.2 363.6,320.5 363.2,319.5 362.9,318.4 362.5,317 362.2,315.5 361.8,313.8 510.7,221.6 511.1,223.3 511.4,224.8 511.7,226.2 512.1,227.3 512.4,228.3 512.8,229 513.1,229.5 513.5,229.8" fill="#352a87" stroke="#352a87"/></g><path d="M210.6 233.6 L211 233.7 L211.4 233.5 L211.8 233.1 L212.1 232.4 L212.5 231.5 L212.9 230.3 L213.3 228.9 L213.7 227.2 L214.1 225.3 L214.5 223.2 L214.8 220.9 L215.2 218.4 L215.6 215.7 L216 212.8 L216.4 209.7 L216.8 206.5 L217.1 203.2 L217.5 199.7 L217.9 196.1 L218.3 192.5 L218.7 188.7 L219.1 184.9 L219.5 181 L219.8 177.1 L220.2 173.2 L220.6 169.3 L221 165.4 L221.4 161.5 L221.8 157.7 L222.2 153.9 L222.5 150.2 L222.9 146.6 L223.3 143.2 L223.7 139.8 L224.1 136.6 L224.5 133.6 L224.8 130.7 L225.2 128 L225.6 125.5 L226 123.1 L226.4 121 L226.8 119.1 L227.2 117.5 L227.5 116.1 L227.9 114.9 L228.3 113.9 L228.7 113.3 L229.1 112.8 L229.5 112.7 L229.9 112.8 L230.2 113.1 L230.6 113.7 L231 114.6 L231.4 115.7 L231.8 117.1 L232.2 118.7 L232.5 120.6 L232.9 122.7 L233.3 125 L233.7 127.6 L234.1 130.3 L234.5 133.3 L234.9 136.4 L235.2 139.8 L235.6 143.3 L236 146.9 L236.4 150.7 L236.8 154.6 L237.2 158.6 L237.6 162.7 L237.9 166.9 L238.3 171.2 L238.7 175.5 L239.1 179.9 L239.5 184.2 L239.9 188.6 L240.2 192.9 L240.6 197.2 L241 201.5 L241.4 205.7 L241.8 209.8 L242.2 213.9 L242.6 217.8 L242.9 221.6 L243.3 225.2 L243.7 228.7 L244.1 232 L244.5 235.2 L244.9 238.1 L245.2 240.9 L245.6 243.4 L246 245.8 L246.4 247.9 L246.8 249.7 L247.2 251.4 L247.6 252.7 L247.9 253.9 L248.3 254.7 L248.7 255.3 L249.1 255.7 L249.5 255.8 L249.9 255.6 L250.3 255.2 L250.6 254.5 L251 253.6 L251.4 252.4 L251.8 251 L252.2 249.3 L252.6 247.4 L253 245.3 L253.3 243 L253.7 240.5 L254.1 237.8 L254.5 234.9 L254.9 231.8 L255.3 228.6 L255.6 225.3 L256 221.8 L256.4 218.2 L256.8 214.6 L257.2 210.8 L257.6 207 L258 203.1 L258.3 199.2 L258.7 195.3 L259.1 191.4 L259.5 187.5 L259.9 183.6 L260.3 179.8 L260.7 176 L261 172.3 L261.4 168.7 L261.8 165.3 L262.2 161.9 L262.6 158.7 L263 155.7 L263.3 152.8 L263.7 150.1 L264.1 147.6 L264.5 145.2 L264.9 143.1 L265.3 141.2 L265.7 139.6 L266 138.2 L266.4 137 L266.8 136 L267.2 135.4 L267.6 134.9 L268 134.8 L268.4 134.9 L268.7 135.2 L269.1 135.8 L269.5 136.7 L269.9 137.8 L270.3 139.2 L270.7 140.8 L271 142.7 L271.4 144.8 L271.8 147.1 L272.2 149.7 L272.6 152.4 L273 155.4 L273.4 158.5 L273.7 161.9 L274.1 165.4 L274.5 169 L274.9 172.8 L275.3 176.7 L275.7 180.7 L276.1 184.8 L276.4 189 L276.8 193.3 L277.2 197.6 L277.6 202 L278 206.3 L278.4 210.7 L278.7 215 L279.1 219.3 L279.5 223.6 L279.9 227.8 L280.3 231.9 L280.7 236 L281.1 239.9 L281.4 243.7 L281.8 247.3 L282.2 250.8 L282.6 254.1 L283 257.3 L283.4 260.2 L283.8 263 L284.1 265.5 L284.5 267.9 L284.9 270 L285.3 271.8 L285.7 273.5 L286.1 274.8 L286.4 276 L286.8 276.8 L287.2 277.4 L287.6 277.8 L288 277.9 L288.4 277.7 L288.8 277.3 L289.1 276.6 L289.5 275.7 L289.9 274.5 L290.3 273.1 L290.7 271.4 L291.1 269.5 L291.5 267.4 L291.8 265.1 L292.2 262.6 L292.6 259.9 L293 257 L293.4 253.9 L293.8 250.7 L294.1 247.4 L294.5 243.9 L294.9 240.3 L295.3 236.7 L295.7 232.9 L296.1 229.1 L296.5 225.2 L296.8 221.3 L297.2 217.4 L297.6 213.5 L298 209.6 L298.4 205.7 L298.8 201.9 L299.2 198.1 L299.5 194.4 L299.9 190.8 L300.3 187.4 L300.7 184 L301.1 180.8 L301.5 177.8 L301.8 174.9 L302.2 172.2 L302.6 169.7 L303 167.3 L303.4 165.2 L303.8 163.3 L304.2 161.7 L304.5 160.3 L304.9 159.1 L305.3 158.1 L305.7 157.5 L306.1 157 L306.5 156.9 L306.9 157 L307.2 157.3 L307.6 157.9 L308 158.8 L308.4 159.9 L308.8 161.3 L309.2 162.9 L309.5 164.8 L309.9 166.9 L310.3 169.2 L310.7 171.8 L311.1 174.5 L311.5 177.5 L311.9 180.6 L312.2 184 L312.6 187.5 L313 191.1 L313.4 194.9 L313.8 198.8 L314.2 202.8 L314.6 206.9 L314.9 211.1 L315.3 215.4 L315.7 219.7 L316.1 224.1 L316.5 228.4 L316.9 232.8 L317.2 237.1 L317.6 241.4 L318 245.7 L318.4 249.9 L318.8 254 L319.2 258.1 L319.6 262 L319.9 265.8 L320.3 269.4 L320.7 272.9 L321.1 276.2 L321.5 279.4 L321.9 282.3 L322.2 285.1 L322.6 287.6 L323 290 L323.4 292.1 L323.8 293.9 L324.2 295.6 L324.6 296.9 L324.9 298.1 L325.3 298.9 L325.7 299.5 L326.1 299.9 L326.5 300 L326.9 299.8 L327.3 299.4 L327.6 298.7 L328 297.8 L328.4 296.6 L328.8 295.2 L329.2 293.5 L329.6 291.6 L330 289.5 L330.3 287.2 L330.7 284.7 L331.1 282 L331.5 279.1 L331.9 276 L332.3 272.8 L332.6 269.5 L333 266 L333.4 262.4 L333.8 258.8 L334.2 255 L334.6 251.2 L335 247.3 L335.3 243.4 L335.7 239.5 L336.1 235.6 L336.5 231.7 L336.9 227.8 L337.3 224 L337.7 220.2 L338 216.5 L338.4 212.9 L338.8 209.5 L339.2 206.1 L339.6 202.9 L340 199.9 L340.3 197 L340.7 194.3 L341.1 191.8 L341.5 189.4 L341.9 187.3 L342.3 185.4 L342.7 183.8 L343 182.4 L343.4 181.2 L343.8 180.2 L344.2 179.6 L344.6 179.1 L345 179 L345.4 179.1 L345.7 179.4 L346.1 180 L346.5 180.9 L346.9 182 L347.3 183.4 L347.7 185 L348 186.9 L348.4 189 L348.8 191.3 L349.2 193.9 L349.6 196.6 L350 199.6 L350.4 202.7 L350.7 206.1 L351.1 209.6 L351.5 213.2 L351.9 217 L352.3 220.9 L352.7 224.9 L353.1 229 L353.4 233.2 L353.8 237.5 L354.2 241.8 L354.6 246.2 L355 250.5 L355.4 254.9 L355.7 259.2 L356.1 263.5 L356.5 267.8 L356.9 272 L357.3 276.1 L357.7 280.2 L358.1 284.1 L358.4 287.9 L358.8 291.5 L359.2 295 L359.6 298.3 L360 301.5 L360.4 304.4 L360.8 307.2 L361.1 309.7 L361.5 312.1 L361.9 314.2 L362.3 316 L362.7 317.7 L363.1 319 L363.4 320.2 L363.8 321 L364.2 321.6 L364.6 322" fill="none" stroke="#f51010" stroke-width="1.7" stroke-linejoin="round"/><path d="M218.3 176.1 L218.7 175.6 L219.1 175 L219.5 174.4 L219.8 173.8 L220.2 173.2 L220.6 172.6 L221 172 L221.4 171.4 L221.8 170.8 L222.2 170.2 L222.5 169.6 L222.9 169.1 L223.3 168.6 L223.7 168.1 L224.1 167.6 L224.5 167.2 L224.8 166.8 L225.2 166.4 L225.6 166.1 L226 165.8 L226.4 165.6 L226.8 165.4 L227.2 165.2 L227.5 165.1 L227.9 165.1 L228.3 165 L228.7 165.1 L229.1 165.2 L229.5 165.3 L229.9 165.5 L230.2 165.8 L230.6 166.1 L231 166.4 L231.4 166.8 L231.8 167.3 L232.2 167.8 L232.5 168.3 L232.9 168.9 L233.3 169.6 L233.7 170.2 L234.1 171 L234.5 171.7 L234.9 172.5 L235.2 173.4 L235.6 174.3 L236 175.2 L236.4 176.1 L236.8 177.1 L237.2 178 L237.6 179 L237.9 180.1 L238.3 181.1 L238.7 182.1 L239.1 183.2 L239.5 184.2 L239.9 185.3 L240.2 186.3 L240.6 187.4 L241 188.4 L241.4 189.4 L241.8 190.4 L242.2 191.4 L242.6 192.3 L242.9 193.3 L243.3 194.2 L243.7 195.1 L244.1 195.9 L244.5 196.7 L244.9 197.5 L245.2 198.2 L245.6 198.9 L246 199.5 L246.4 200.1 L246.8 200.7 L247.2 201.2 L247.6 201.6 L247.9 202 L248.3 202.4 L248.7 202.7 L249.1 202.9 L249.5 203.1 L249.9 203.3 L250.3 203.4 L250.6 203.4 L251 203.4 L251.4 203.3 L251.8 203.2 L252.2 203.1 L252.6 202.9 L253 202.6 L253.3 202.3 L253.7 202 L254.1 201.7 L254.5 201.3 L254.9 200.8 L255.3 200.4 L255.6 199.9 L256 199.3 L256.4 198.8 L256.8 198.2 L257.2 197.7 L257.6 197.1 L258 196.5 L258.3 195.9 L258.7 195.3 L259.1 194.7 L259.5 194.1 L259.9 193.5 L260.3 192.9 L260.7 192.3 L261 191.7 L261.4 191.2 L261.8 190.7 L262.2 190.2 L262.6 189.7 L263 189.3 L263.3 188.9 L263.7 188.5 L264.1 188.2 L264.5 187.9 L264.9 187.7 L265.3 187.5 L265.7 187.3 L266 187.2 L266.4 187.2 L266.8 187.1 L267.2 187.2 L267.6 187.3 L268 187.4 L268.4 187.6 L268.7 187.9 L269.1 188.2 L269.5 188.5 L269.9 188.9 L270.3 189.4 L270.7 189.9 L271 190.4 L271.4 191 L271.8 191.7 L272.2 192.3 L272.6 193.1 L273 193.8 L273.4 194.6 L273.7 195.5 L274.1 196.4 L274.5 197.3 L274.9 198.2 L275.3 199.2 L275.7 200.1 L276.1 201.1 L276.4 202.2 L276.8 203.2 L277.2 204.2 L277.6 205.3 L278 206.3 L278.4 207.4 L278.7 208.4 L279.1 209.5 L279.5 210.5 L279.9 211.5 L280.3 212.5 L280.7 213.5 L281.1 214.4 L281.4 215.4 L281.8 216.3 L282.2 217.2 L282.6 218 L283 218.8 L283.4 219.6 L283.8 220.3 L284.1 221 L284.5 221.6 L284.9 222.2 L285.3 222.8 L285.7 223.3 L286.1 223.7 L286.4 224.1 L286.8 224.5 L287.2 224.8 L287.6 225 L288 225.2 L288.4 225.4 L288.8 225.5 L289.1 225.5 L289.5 225.5 L289.9 225.4 L290.3 225.3 L290.7 225.2 L291.1 225 L291.5 224.7 L291.8 224.4 L292.2 224.1 L292.6 223.8 L293 223.4 L293.4 222.9 L293.8 222.5 L294.1 222 L294.5 221.4 L294.9 220.9 L295.3 220.3 L295.7 219.8 L296.1 219.2 L296.5 218.6 L296.8 218 L297.2 217.4 L297.6 216.8 L298 216.2 L298.4 215.6 L298.8 215 L299.2 214.4 L299.5 213.8 L299.9 213.3 L300.3 212.8 L300.7 212.3 L301.1 211.8 L301.5 211.4 L301.8 211 L302.2 210.6 L302.6 210.3 L303 210 L303.4 209.8 L303.8 209.6 L304.2 209.4 L304.5 209.3 L304.9 209.3 L305.3 209.2 L305.7 209.3 L306.1 209.4 L306.5 209.5 L306.9 209.7 L307.2 210 L307.6 210.3 L308 210.6 L308.4 211 L308.8 211.5 L309.2 212 L309.5 212.5 L309.9 213.1 L310.3 213.8 L310.7 214.4 L311.1 215.2 L311.5 215.9 L311.9 216.7 L312.2 217.6 L312.6 218.5 L313 219.4 L313.4 220.3 L313.8 221.3 L314.2 222.2 L314.6 223.2 L314.9 224.3 L315.3 225.3 L315.7 226.3 L316.1 227.4 L316.5 228.4 L316.9 229.5 L317.2 230.5 L317.6 231.6 L318 232.6 L318.4 233.6 L318.8 234.6 L319.2 235.6 L319.6 236.5 L319.9 237.5 L320.3 238.4 L320.7 239.3 L321.1 240.1 L321.5 240.9 L321.9 241.7 L322.2 242.4 L322.6 243.1 L323 243.7 L323.4 244.3 L323.8 244.9 L324.2 245.4 L324.6 245.8 L324.9 246.2 L325.3 246.6 L325.7 246.9 L326.1 247.1 L326.5 247.3 L326.9 247.5 L327.3 247.6 L327.6 247.6 L328 247.6 L328.4 247.5 L328.8 247.4 L329.2 247.3 L329.6 247.1 L330 246.8 L330.3 246.5 L330.7 246.2 L331.1 245.9 L331.5 245.5 L331.9 245 L332.3 244.6 L332.6 244.1 L333 243.5 L333.4 243 L333.8 242.4 L334.2 241.9 L334.6 241.3 L335 240.7 L335.3 240.1 L335.7 239.5 L336.1 238.9 L336.5 238.3 L336.9 237.7 L337.3 237.1 L337.7 236.5 L338 235.9 L338.4 235.4 L338.8 234.9 L339.2 234.4 L339.6 233.9 L340 233.5 L340.3 233.1 L340.7 232.7 L341.1 232.4 L341.5 232.1 L341.9 231.9 L342.3 231.7 L342.7 231.5 L343 231.4 L343.4 231.4 L343.8 231.3 L344.2 231.4 L344.6 231.5 L345 231.6 L345.4 231.8 L345.7 232.1 L346.1 232.4 L346.5 232.7 L346.9 233.1 L347.3 233.6 L347.7 234.1 L348 234.6 L348.4 235.2 L348.8 235.9 L349.2 236.5 L349.6 237.3 L350 238 L350.4 238.8 L350.7 239.7 L351.1 240.6 L351.5 241.5 L351.9 242.4 L352.3 243.4 L352.7 244.3 L353.1 245.3 L353.4 246.4 L353.8 247.4 L354.2 248.4 L354.6 249.5 L355 250.5 L355.4 251.6 L355.7 252.6 L356.1 253.7 L356.5 254.7 L356.9 255.7 L357.3 256.7 L357.7 257.7 L358.1 258.6 L358.4 259.6 L358.8 260.5 L359.2 261.4 L359.6 262.2 L360 263 L360.4 263.8 L360.8 264.5 L361.1 265.2 L361.5 265.8 L361.9 266.4 L362.3 267 L362.7 267.5 L363.1 267.9 L363.4 268.3 L363.8 268.7 L364.2 269 L364.6 269.2" fill="none" stroke="#1428ee" stroke-width="1.7" stroke-dasharray="5.5 3.5" stroke-linejoin="round"/><g font-family="Liberation Sans, Arial, sans-serif" font-size="12.8" fill="#3a3a3a"><text x="205.8" y="237.2" text-anchor="end">−5</text><text x="205.8" y="210.8" text-anchor="end">−3</text><text x="205.8" y="184.4" text-anchor="end">−1</text><text x="205.8" y="158.1" text-anchor="end">1</text><text x="205.8" y="131.7" text-anchor="end">3</text><text x="205.8" y="105.3" text-anchor="end">5</text><text x="195" y="256.2" text-anchor="middle">400</text><text x="234.2" y="278.7" text-anchor="middle">300</text><text x="272.6" y="301.7" text-anchor="middle">200</text><text x="311" y="324" text-anchor="middle">100</text><text x="357.4" y="345.5" text-anchor="middle">0</text><text x="372.6" y="345.5" text-anchor="middle">0</text><text x="418.6" y="322.2" text-anchor="middle">100</text><text x="455" y="299.2" text-anchor="middle">200</text><text x="492.9" y="276.2" text-anchor="middle">300</text><text x="530" y="252.8" text-anchor="middle">400</text></g><g font-family="Liberation Serif, Times New Roman, serif" fill="#111"><text x="90" y="235" font-size="20" text-anchor="middle">(a)</text><text x="91.5" y="402.5" font-size="20" text-anchor="middle">(c)</text><text x="258.5" y="383" font-size="20" text-anchor="middle">(b)</text><text x="36.3" y="431" font-size="20" text-anchor="middle">(d)</text><text transform="translate(184.8,170.5) rotate(-90)" font-size="19.3" text-anchor="middle" fill="#333">Displacement/<tspan font-style="italic">pixels</tspan></text><text x="258.6" y="320" font-size="16.5" font-style="italic" text-anchor="middle" fill="#333">y</text><text x="468.7" y="316" font-size="16.5" font-style="italic" text-anchor="middle" fill="#333">x</text><text x="175.2" y="374.5" font-size="17.8" letter-spacing="0.15">Forward</text><text x="176.3" y="397.8" font-size="17.8" letter-spacing="0.25">Reverse</text><text x="342.5" y="368.3" font-size="19.5" fill="#000"><tspan font-style="italic">v</tspan> =5sin(8π<tspan font-style="italic">y</tspan>/400–π/2)</text><text x="342.5" y="395" font-size="19.5" fill="#000"><tspan font-style="italic">v</tspan> =sin(8π<tspan font-style="italic">y</tspan>/400–π/2)</text><text x="82.5" y="529.5" font-size="18" text-anchor="middle">10°</text><text x="175.8" y="529.5" font-size="18" text-anchor="middle">20°</text><text x="293" y="529.5" font-size="18" text-anchor="middle">90°</text><text x="401" y="529.5" font-size="18" text-anchor="middle">170°</text><text x="496.8" y="529.5" font-size="18" text-anchor="middle">180°</text></g><line x1="278.5" y1="363.3" x2="331.5" y2="363.3" stroke="#f00" stroke-width="2.2"/><line x1="278.5" y1="389.2" x2="331.5" y2="389.2" stroke="#1020f0" stroke-width="2.2" stroke-dasharray="10.4 3.8"/><path d="M167.8 360V378M162.9 368.5L167.8 378L172.7 368.5" stroke="#f00" stroke-width="1.35" fill="none"/><path d="M168 399.2V382M163.1 391.5L168 382L172.9 391.5" stroke="#1a1aff" stroke-width="1.35" fill="none"/><g transform="translate(84,463) rotate(10) scale(0.5801) translate(-70.5,-70)"><use href="#thumb"/></g><g transform="translate(182,468) rotate(19.5) scale(0.5801) translate(-70.5,-70)"><use href="#thumb"/></g><g transform="translate(291,467) rotate(90) scale(0.5801) translate(-70.5,-70)"><use href="#thumb"/></g><g transform="translate(402.4,467) rotate(190) scale(0.5801) translate(-70.5,-70)"><use href="#thumb"/></g><g transform="translate(497.3,466) rotate(180) scale(0.5801) translate(-70.5,-70)"><use href="#thumb"/></g><g fill="#000"><circle cx="226" cy="465.4" r="2.1"/><circle cx="234.5" cy="465.4" r="2.1"/><circle cx="243" cy="465.4" r="2.1"/><circle cx="337.5" cy="465.4" r="2.1"/><circle cx="345.6" cy="465.4" r="2.1"/><circle cx="353.8" cy="465.4" r="2.1"/></g></svg></body></html>
